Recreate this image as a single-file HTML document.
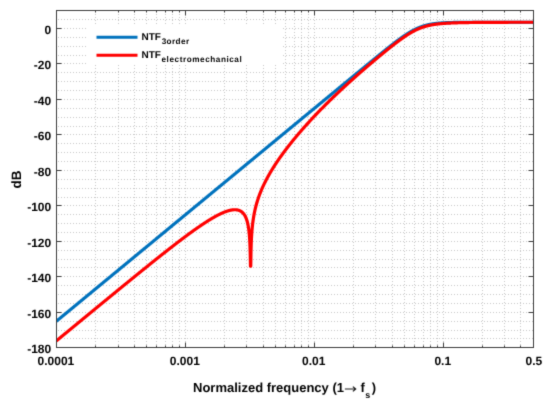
<!DOCTYPE html>
<html><head><meta charset="utf-8"><style>html,body{margin:0;padding:0;background:#fff;width:550px;height:403px;overflow:hidden}svg{display:block}</style></head>
<body><div id="w"><svg width="550" height="403" viewBox="0 0 550 403" text-rendering="geometricPrecision"><defs><filter id="bl" x="0" y="0" width="1" height="1" color-interpolation-filters="sRGB"><feConvolveMatrix order="3" kernelMatrix="1 6 1 6 36 6 1 6 1" divisor="64" edgeMode="duplicate"/></filter></defs><g filter="url(#bl)"><rect width="550" height="403" fill="#fff"/><g stroke="#c8c8c8" stroke-width="1" stroke-dasharray="1 2" fill="none"><line x1="95.5" y1="11" x2="95.5" y2="347.5"/><line x1="118.5" y1="11" x2="118.5" y2="347.5"/><line x1="134.5" y1="11" x2="134.5" y2="347.5"/><line x1="146.5" y1="11" x2="146.5" y2="347.5"/><line x1="156.5" y1="11" x2="156.5" y2="347.5"/><line x1="165.5" y1="11" x2="165.5" y2="347.5"/><line x1="172.5" y1="11" x2="172.5" y2="347.5"/><line x1="179.5" y1="11" x2="179.5" y2="347.5"/><line x1="185.5" y1="11" x2="185.5" y2="347.5"/><line x1="224.5" y1="11" x2="224.5" y2="347.5"/><line x1="246.5" y1="11" x2="246.5" y2="347.5"/><line x1="263.5" y1="11" x2="263.5" y2="347.5"/><line x1="275.5" y1="11" x2="275.5" y2="347.5"/><line x1="285.5" y1="11" x2="285.5" y2="347.5"/><line x1="294.5" y1="11" x2="294.5" y2="347.5"/><line x1="301.5" y1="11" x2="301.5" y2="347.5"/><line x1="308.5" y1="11" x2="308.5" y2="347.5"/><line x1="314.5" y1="11" x2="314.5" y2="347.5"/><line x1="353.5" y1="11" x2="353.5" y2="347.5"/><line x1="375.5" y1="11" x2="375.5" y2="347.5"/><line x1="392.5" y1="11" x2="392.5" y2="347.5"/><line x1="404.5" y1="11" x2="404.5" y2="347.5"/><line x1="414.5" y1="11" x2="414.5" y2="347.5"/><line x1="423.5" y1="11" x2="423.5" y2="347.5"/><line x1="430.5" y1="11" x2="430.5" y2="347.5"/><line x1="437.5" y1="11" x2="437.5" y2="347.5"/><line x1="443.5" y1="11" x2="443.5" y2="347.5"/><line x1="482.5" y1="11" x2="482.5" y2="347.5"/><line x1="504.5" y1="11" x2="504.5" y2="347.5"/><line x1="520.5" y1="11" x2="520.5" y2="347.5"/><line x1="58" y1="338.5" x2="533.5" y2="338.5"/><line x1="58" y1="330.5" x2="533.5" y2="330.5"/><line x1="58" y1="321.5" x2="533.5" y2="321.5"/><line x1="58" y1="312.5" x2="533.5" y2="312.5"/><line x1="58" y1="303.5" x2="533.5" y2="303.5"/><line x1="58" y1="294.5" x2="533.5" y2="294.5"/><line x1="58" y1="285.5" x2="533.5" y2="285.5"/><line x1="58" y1="276.5" x2="533.5" y2="276.5"/><line x1="58" y1="267.5" x2="533.5" y2="267.5"/><line x1="58" y1="259.5" x2="533.5" y2="259.5"/><line x1="58" y1="250.5" x2="533.5" y2="250.5"/><line x1="58" y1="241.5" x2="533.5" y2="241.5"/><line x1="58" y1="232.5" x2="533.5" y2="232.5"/><line x1="58" y1="223.5" x2="533.5" y2="223.5"/><line x1="58" y1="214.5" x2="533.5" y2="214.5"/><line x1="58" y1="205.5" x2="533.5" y2="205.5"/><line x1="58" y1="197.5" x2="533.5" y2="197.5"/><line x1="58" y1="188.5" x2="533.5" y2="188.5"/><line x1="58" y1="179.5" x2="533.5" y2="179.5"/><line x1="58" y1="170.5" x2="533.5" y2="170.5"/><line x1="58" y1="161.5" x2="533.5" y2="161.5"/><line x1="58" y1="152.5" x2="533.5" y2="152.5"/><line x1="58" y1="143.5" x2="533.5" y2="143.5"/><line x1="58" y1="134.5" x2="533.5" y2="134.5"/><line x1="58" y1="126.5" x2="533.5" y2="126.5"/><line x1="58" y1="117.5" x2="533.5" y2="117.5"/><line x1="58" y1="108.5" x2="533.5" y2="108.5"/><line x1="58" y1="99.5" x2="533.5" y2="99.5"/><line x1="58" y1="90.5" x2="533.5" y2="90.5"/><line x1="58" y1="81.5" x2="533.5" y2="81.5"/><line x1="58" y1="72.5" x2="533.5" y2="72.5"/><line x1="58" y1="63.5" x2="533.5" y2="63.5"/><line x1="58" y1="55.5" x2="533.5" y2="55.5"/><line x1="58" y1="46.5" x2="533.5" y2="46.5"/><line x1="58" y1="37.5" x2="533.5" y2="37.5"/><line x1="58" y1="28.5" x2="533.5" y2="28.5"/><line x1="58" y1="19.5" x2="533.5" y2="19.5"/></g><rect x="87" y="25" width="196" height="40" fill="#fff"/><clipPath id="ax"><rect x="56.5" y="10.5" width="477.0" height="337.0"/></clipPath><path clip-path="url(#ax)" d="M56.50,321.12 L56.74,320.92 L56.98,320.72 L57.22,320.53 L57.45,320.33 L57.69,320.13 L57.93,319.93 L58.17,319.74 L58.41,319.54 L58.65,319.34 L58.89,319.15 L59.12,318.95 L59.36,318.75 L59.60,318.56 L59.84,318.36 L60.08,318.16 L60.32,317.97 L60.56,317.77 L60.79,317.57 L61.03,317.37 L61.27,317.18 L61.51,316.98 L61.75,316.78 L61.99,316.59 L62.23,316.39 L62.47,316.19 L62.70,316.00 L62.94,315.80 L63.18,315.60 L63.42,315.41 L63.66,315.21 L63.90,315.01 L64.14,314.81 L64.37,314.62 L64.61,314.42 L64.85,314.22 L65.09,314.03 L65.33,313.83 L65.57,313.63 L65.81,313.44 L66.04,313.24 L66.28,313.04 L66.52,312.85 L66.76,312.65 L67.00,312.45 L67.24,312.25 L67.48,312.06 L67.71,311.86 L67.95,311.66 L68.19,311.47 L68.43,311.27 L68.67,311.07 L68.91,310.88 L69.15,310.68 L69.38,310.48 L69.62,310.29 L69.86,310.09 L70.10,309.89 L70.34,309.69 L70.58,309.50 L70.82,309.30 L71.06,309.10 L71.29,308.91 L71.53,308.71 L71.77,308.51 L72.01,308.32 L72.25,308.12 L72.49,307.92 L72.73,307.73 L72.96,307.53 L73.20,307.33 L73.44,307.13 L73.68,306.94 L73.92,306.74 L74.16,306.54 L74.40,306.35 L74.63,306.15 L74.87,305.95 L75.11,305.76 L75.35,305.56 L75.59,305.36 L75.83,305.16 L76.07,304.97 L76.30,304.77 L76.54,304.57 L76.78,304.38 L77.02,304.18 L77.26,303.98 L77.50,303.79 L77.74,303.59 L77.97,303.39 L78.21,303.20 L78.45,303.00 L78.69,302.80 L78.93,302.60 L79.17,302.41 L79.41,302.21 L79.65,302.01 L79.88,301.82 L80.12,301.62 L80.36,301.42 L80.60,301.23 L80.84,301.03 L81.08,300.83 L81.32,300.64 L81.55,300.44 L81.79,300.24 L82.03,300.04 L82.27,299.85 L82.51,299.65 L82.75,299.45 L82.99,299.26 L83.22,299.06 L83.46,298.86 L83.70,298.67 L83.94,298.47 L84.18,298.27 L84.42,298.08 L84.66,297.88 L84.89,297.68 L85.13,297.48 L85.37,297.29 L85.61,297.09 L85.85,296.89 L86.09,296.70 L86.33,296.50 L86.56,296.30 L86.80,296.11 L87.04,295.91 L87.28,295.71 L87.52,295.52 L87.76,295.32 L88.00,295.12 L88.24,294.92 L88.47,294.73 L88.71,294.53 L88.95,294.33 L89.19,294.14 L89.43,293.94 L89.67,293.74 L89.91,293.55 L90.14,293.35 L90.38,293.15 L90.62,292.96 L90.86,292.76 L91.10,292.56 L91.34,292.36 L91.58,292.17 L91.81,291.97 L92.05,291.77 L92.29,291.58 L92.53,291.38 L92.77,291.18 L93.01,290.99 L93.25,290.79 L93.48,290.59 L93.72,290.40 L93.96,290.20 L94.20,290.00 L94.44,289.80 L94.68,289.61 L94.92,289.41 L95.15,289.21 L95.39,289.02 L95.63,288.82 L95.87,288.62 L96.11,288.43 L96.35,288.23 L96.59,288.03 L96.83,287.84 L97.06,287.64 L97.30,287.44 L97.54,287.24 L97.78,287.05 L98.02,286.85 L98.26,286.65 L98.50,286.46 L98.73,286.26 L98.97,286.06 L99.21,285.87 L99.45,285.67 L99.69,285.47 L99.93,285.28 L100.17,285.08 L100.40,284.88 L100.64,284.68 L100.88,284.49 L101.12,284.29 L101.36,284.09 L101.60,283.90 L101.84,283.70 L102.07,283.50 L102.31,283.31 L102.55,283.11 L102.79,282.91 L103.03,282.72 L103.27,282.52 L103.51,282.32 L103.74,282.12 L103.98,281.93 L104.22,281.73 L104.46,281.53 L104.70,281.34 L104.94,281.14 L105.18,280.94 L105.42,280.75 L105.65,280.55 L105.89,280.35 L106.13,280.16 L106.37,279.96 L106.61,279.76 L106.85,279.56 L107.09,279.37 L107.32,279.17 L107.56,278.97 L107.80,278.78 L108.04,278.58 L108.28,278.38 L108.52,278.19 L108.76,277.99 L108.99,277.79 L109.23,277.60 L109.47,277.40 L109.71,277.20 L109.95,277.00 L110.19,276.81 L110.43,276.61 L110.66,276.41 L110.90,276.22 L111.14,276.02 L111.38,275.82 L111.62,275.63 L111.86,275.43 L112.10,275.23 L112.33,275.04 L112.57,274.84 L112.81,274.64 L113.05,274.44 L113.29,274.25 L113.53,274.05 L113.77,273.85 L114.01,273.66 L114.24,273.46 L114.48,273.26 L114.72,273.07 L114.96,272.87 L115.20,272.67 L115.44,272.48 L115.68,272.28 L115.91,272.08 L116.15,271.88 L116.39,271.69 L116.63,271.49 L116.87,271.29 L117.11,271.10 L117.35,270.90 L117.58,270.70 L117.82,270.51 L118.06,270.31 L118.30,270.11 L118.54,269.92 L118.78,269.72 L119.02,269.52 L119.25,269.32 L119.49,269.13 L119.73,268.93 L119.97,268.73 L120.21,268.54 L120.45,268.34 L120.69,268.14 L120.92,267.95 L121.16,267.75 L121.40,267.55 L121.64,267.36 L121.88,267.16 L122.12,266.96 L122.36,266.76 L122.60,266.57 L122.83,266.37 L123.07,266.17 L123.31,265.98 L123.55,265.78 L123.79,265.58 L124.03,265.39 L124.27,265.19 L124.50,264.99 L124.74,264.80 L124.98,264.60 L125.22,264.40 L125.46,264.20 L125.70,264.01 L125.94,263.81 L126.17,263.61 L126.41,263.42 L126.65,263.22 L126.89,263.02 L127.13,262.83 L127.37,262.63 L127.61,262.43 L127.84,262.24 L128.08,262.04 L128.32,261.84 L128.56,261.64 L128.80,261.45 L129.04,261.25 L129.28,261.05 L129.51,260.86 L129.75,260.66 L129.99,260.46 L130.23,260.27 L130.47,260.07 L130.71,259.87 L130.95,259.68 L131.19,259.48 L131.42,259.28 L131.66,259.08 L131.90,258.89 L132.14,258.69 L132.38,258.49 L132.62,258.30 L132.86,258.10 L133.09,257.90 L133.33,257.71 L133.57,257.51 L133.81,257.31 L134.05,257.12 L134.29,256.92 L134.53,256.72 L134.76,256.52 L135.00,256.33 L135.24,256.13 L135.48,255.93 L135.72,255.74 L135.96,255.54 L136.20,255.34 L136.43,255.15 L136.67,254.95 L136.91,254.75 L137.15,254.56 L137.39,254.36 L137.63,254.16 L137.87,253.96 L138.10,253.77 L138.34,253.57 L138.58,253.37 L138.82,253.18 L139.06,252.98 L139.30,252.78 L139.54,252.59 L139.78,252.39 L140.01,252.19 L140.25,252.00 L140.49,251.80 L140.73,251.60 L140.97,251.40 L141.21,251.21 L141.45,251.01 L141.68,250.81 L141.92,250.62 L142.16,250.42 L142.40,250.22 L142.64,250.03 L142.88,249.83 L143.12,249.63 L143.35,249.44 L143.59,249.24 L143.83,249.04 L144.07,248.84 L144.31,248.65 L144.55,248.45 L144.79,248.25 L145.02,248.06 L145.26,247.86 L145.50,247.66 L145.74,247.47 L145.98,247.27 L146.22,247.07 L146.46,246.88 L146.69,246.68 L146.93,246.48 L147.17,246.28 L147.41,246.09 L147.65,245.89 L147.89,245.69 L148.13,245.50 L148.37,245.30 L148.60,245.10 L148.84,244.91 L149.08,244.71 L149.32,244.51 L149.56,244.32 L149.80,244.12 L150.04,243.92 L150.27,243.72 L150.51,243.53 L150.75,243.33 L150.99,243.13 L151.23,242.94 L151.47,242.74 L151.71,242.54 L151.94,242.35 L152.18,242.15 L152.42,241.95 L152.66,241.76 L152.90,241.56 L153.14,241.36 L153.38,241.16 L153.61,240.97 L153.85,240.77 L154.09,240.57 L154.33,240.38 L154.57,240.18 L154.81,239.98 L155.05,239.79 L155.28,239.59 L155.52,239.39 L155.76,239.20 L156.00,239.00 L156.24,238.80 L156.48,238.60 L156.72,238.41 L156.95,238.21 L157.19,238.01 L157.43,237.82 L157.67,237.62 L157.91,237.42 L158.15,237.23 L158.39,237.03 L158.63,236.83 L158.86,236.64 L159.10,236.44 L159.34,236.24 L159.58,236.04 L159.82,235.85 L160.06,235.65 L160.30,235.45 L160.53,235.26 L160.77,235.06 L161.01,234.86 L161.25,234.67 L161.49,234.47 L161.73,234.27 L161.97,234.08 L162.20,233.88 L162.44,233.68 L162.68,233.48 L162.92,233.29 L163.16,233.09 L163.40,232.89 L163.64,232.70 L163.87,232.50 L164.11,232.30 L164.35,232.11 L164.59,231.91 L164.83,231.71 L165.07,231.52 L165.31,231.32 L165.54,231.12 L165.78,230.92 L166.02,230.73 L166.26,230.53 L166.50,230.33 L166.74,230.14 L166.98,229.94 L167.22,229.74 L167.45,229.55 L167.69,229.35 L167.93,229.15 L168.17,228.96 L168.41,228.76 L168.65,228.56 L168.89,228.36 L169.12,228.17 L169.36,227.97 L169.60,227.77 L169.84,227.58 L170.08,227.38 L170.32,227.18 L170.56,226.99 L170.79,226.79 L171.03,226.59 L171.27,226.40 L171.51,226.20 L171.75,226.00 L171.99,225.80 L172.23,225.61 L172.46,225.41 L172.70,225.21 L172.94,225.02 L173.18,224.82 L173.42,224.62 L173.66,224.43 L173.90,224.23 L174.13,224.03 L174.37,223.84 L174.61,223.64 L174.85,223.44 L175.09,223.24 L175.33,223.05 L175.57,222.85 L175.81,222.65 L176.04,222.46 L176.28,222.26 L176.52,222.06 L176.76,221.87 L177.00,221.67 L177.24,221.47 L177.48,221.28 L177.71,221.08 L177.95,220.88 L178.19,220.68 L178.43,220.49 L178.67,220.29 L178.91,220.09 L179.15,219.90 L179.38,219.70 L179.62,219.50 L179.86,219.31 L180.10,219.11 L180.34,218.91 L180.58,218.72 L180.82,218.52 L181.05,218.32 L181.29,218.12 L181.53,217.93 L181.77,217.73 L182.01,217.53 L182.25,217.34 L182.49,217.14 L182.72,216.94 L182.96,216.75 L183.20,216.55 L183.44,216.35 L183.68,216.16 L183.92,215.96 L184.16,215.76 L184.40,215.56 L184.63,215.37 L184.87,215.17 L185.11,214.97 L185.35,214.78 L185.59,214.58 L185.83,214.38 L186.07,214.19 L186.30,213.99 L186.54,213.79 L186.78,213.60 L187.02,213.40 L187.26,213.20 L187.50,213.00 L187.74,212.81 L187.97,212.61 L188.21,212.41 L188.45,212.22 L188.69,212.02 L188.93,211.82 L189.17,211.63 L189.41,211.43 L189.64,211.23 L189.88,211.04 L190.12,210.84 L190.36,210.64 L190.60,210.44 L190.84,210.25 L191.08,210.05 L191.31,209.85 L191.55,209.66 L191.79,209.46 L192.03,209.26 L192.27,209.07 L192.51,208.87 L192.75,208.67 L192.99,208.48 L193.22,208.28 L193.46,208.08 L193.70,207.88 L193.94,207.69 L194.18,207.49 L194.42,207.29 L194.66,207.10 L194.89,206.90 L195.13,206.70 L195.37,206.51 L195.61,206.31 L195.85,206.11 L196.09,205.92 L196.33,205.72 L196.56,205.52 L196.80,205.32 L197.04,205.13 L197.28,204.93 L197.52,204.73 L197.76,204.54 L198.00,204.34 L198.23,204.14 L198.47,203.95 L198.71,203.75 L198.95,203.55 L199.19,203.36 L199.43,203.16 L199.67,202.96 L199.90,202.76 L200.14,202.57 L200.38,202.37 L200.62,202.17 L200.86,201.98 L201.10,201.78 L201.34,201.58 L201.58,201.39 L201.81,201.19 L202.05,200.99 L202.29,200.80 L202.53,200.60 L202.77,200.40 L203.01,200.20 L203.25,200.01 L203.48,199.81 L203.72,199.61 L203.96,199.42 L204.20,199.22 L204.44,199.02 L204.68,198.83 L204.92,198.63 L205.15,198.43 L205.39,198.24 L205.63,198.04 L205.87,197.84 L206.11,197.64 L206.35,197.45 L206.59,197.25 L206.82,197.05 L207.06,196.86 L207.30,196.66 L207.54,196.46 L207.78,196.27 L208.02,196.07 L208.26,195.87 L208.49,195.68 L208.73,195.48 L208.97,195.28 L209.21,195.08 L209.45,194.89 L209.69,194.69 L209.93,194.49 L210.17,194.30 L210.40,194.10 L210.64,193.90 L210.88,193.71 L211.12,193.51 L211.36,193.31 L211.60,193.12 L211.84,192.92 L212.07,192.72 L212.31,192.52 L212.55,192.33 L212.79,192.13 L213.03,191.93 L213.27,191.74 L213.51,191.54 L213.74,191.34 L213.98,191.15 L214.22,190.95 L214.46,190.75 L214.70,190.56 L214.94,190.36 L215.18,190.16 L215.41,189.96 L215.65,189.77 L215.89,189.57 L216.13,189.37 L216.37,189.18 L216.61,188.98 L216.85,188.78 L217.08,188.59 L217.32,188.39 L217.56,188.19 L217.80,188.00 L218.04,187.80 L218.28,187.60 L218.52,187.40 L218.76,187.21 L218.99,187.01 L219.23,186.81 L219.47,186.62 L219.71,186.42 L219.95,186.22 L220.19,186.03 L220.43,185.83 L220.66,185.63 L220.90,185.44 L221.14,185.24 L221.38,185.04 L221.62,184.84 L221.86,184.65 L222.10,184.45 L222.33,184.25 L222.57,184.06 L222.81,183.86 L223.05,183.66 L223.29,183.47 L223.53,183.27 L223.77,183.07 L224.00,182.88 L224.24,182.68 L224.48,182.48 L224.72,182.28 L224.96,182.09 L225.20,181.89 L225.44,181.69 L225.67,181.50 L225.91,181.30 L226.15,181.10 L226.39,180.91 L226.63,180.71 L226.87,180.51 L227.11,180.32 L227.35,180.12 L227.58,179.92 L227.82,179.72 L228.06,179.53 L228.30,179.33 L228.54,179.13 L228.78,178.94 L229.02,178.74 L229.25,178.54 L229.49,178.35 L229.73,178.15 L229.97,177.95 L230.21,177.76 L230.45,177.56 L230.69,177.36 L230.92,177.16 L231.16,176.97 L231.40,176.77 L231.64,176.57 L231.88,176.38 L232.12,176.18 L232.36,175.98 L232.59,175.79 L232.83,175.59 L233.07,175.39 L233.31,175.20 L233.55,175.00 L233.79,174.80 L234.03,174.60 L234.26,174.41 L234.50,174.21 L234.74,174.01 L234.98,173.82 L235.22,173.62 L235.46,173.42 L235.70,173.23 L235.94,173.03 L236.17,172.83 L236.41,172.64 L236.65,172.44 L236.89,172.24 L237.13,172.04 L237.37,171.85 L237.61,171.65 L237.84,171.45 L238.08,171.26 L238.32,171.06 L238.56,170.86 L238.80,170.67 L239.04,170.47 L239.28,170.27 L239.51,170.08 L239.75,169.88 L239.99,169.68 L240.23,169.48 L240.47,169.29 L240.71,169.09 L240.95,168.89 L241.18,168.70 L241.42,168.50 L241.66,168.30 L241.90,168.11 L242.14,167.91 L242.38,167.71 L242.62,167.52 L242.85,167.32 L243.09,167.12 L243.33,166.92 L243.57,166.73 L243.81,166.53 L244.05,166.33 L244.29,166.14 L244.52,165.94 L244.76,165.74 L245.00,165.55 L245.24,165.35 L245.48,165.15 L245.72,164.96 L245.96,164.76 L246.20,164.56 L246.43,164.36 L246.67,164.17 L246.91,163.97 L247.15,163.77 L247.39,163.58 L247.63,163.38 L247.87,163.18 L248.10,162.99 L248.34,162.79 L248.58,162.59 L248.82,162.40 L249.06,162.20 L249.30,162.00 L249.54,161.80 L249.77,161.61 L250.01,161.41 L250.25,161.21 L250.49,161.02 L250.73,160.82 L250.97,160.62 L251.21,160.43 L251.44,160.23 L251.68,160.03 L251.92,159.84 L252.16,159.64 L252.40,159.44 L252.64,159.24 L252.88,159.05 L253.11,158.85 L253.35,158.65 L253.59,158.46 L253.83,158.26 L254.07,158.06 L254.31,157.87 L254.55,157.67 L254.79,157.47 L255.02,157.28 L255.26,157.08 L255.50,156.88 L255.74,156.68 L255.98,156.49 L256.22,156.29 L256.46,156.09 L256.69,155.90 L256.93,155.70 L257.17,155.50 L257.41,155.31 L257.65,155.11 L257.89,154.91 L258.13,154.72 L258.36,154.52 L258.60,154.32 L258.84,154.13 L259.08,153.93 L259.32,153.73 L259.56,153.53 L259.80,153.34 L260.03,153.14 L260.27,152.94 L260.51,152.75 L260.75,152.55 L260.99,152.35 L261.23,152.16 L261.47,151.96 L261.70,151.76 L261.94,151.57 L262.18,151.37 L262.42,151.17 L262.66,150.97 L262.90,150.78 L263.14,150.58 L263.38,150.38 L263.61,150.19 L263.85,149.99 L264.09,149.79 L264.33,149.60 L264.57,149.40 L264.81,149.20 L265.05,149.01 L265.28,148.81 L265.52,148.61 L265.76,148.41 L266.00,148.22 L266.24,148.02 L266.48,147.82 L266.72,147.63 L266.95,147.43 L267.19,147.23 L267.43,147.04 L267.67,146.84 L267.91,146.64 L268.15,146.45 L268.39,146.25 L268.62,146.05 L268.86,145.85 L269.10,145.66 L269.34,145.46 L269.58,145.26 L269.82,145.07 L270.06,144.87 L270.29,144.67 L270.53,144.48 L270.77,144.28 L271.01,144.08 L271.25,143.89 L271.49,143.69 L271.73,143.49 L271.97,143.29 L272.20,143.10 L272.44,142.90 L272.68,142.70 L272.92,142.51 L273.16,142.31 L273.40,142.11 L273.64,141.92 L273.87,141.72 L274.11,141.52 L274.35,141.33 L274.59,141.13 L274.83,140.93 L275.07,140.74 L275.31,140.54 L275.54,140.34 L275.78,140.14 L276.02,139.95 L276.26,139.75 L276.50,139.55 L276.74,139.36 L276.98,139.16 L277.21,138.96 L277.45,138.77 L277.69,138.57 L277.93,138.37 L278.17,138.18 L278.41,137.98 L278.65,137.78 L278.88,137.58 L279.12,137.39 L279.36,137.19 L279.60,136.99 L279.84,136.80 L280.08,136.60 L280.32,136.40 L280.56,136.21 L280.79,136.01 L281.03,135.81 L281.27,135.62 L281.51,135.42 L281.75,135.22 L281.99,135.02 L282.23,134.83 L282.46,134.63 L282.70,134.43 L282.94,134.24 L283.18,134.04 L283.42,133.84 L283.66,133.65 L283.90,133.45 L284.13,133.25 L284.37,133.06 L284.61,132.86 L284.85,132.66 L285.09,132.46 L285.33,132.27 L285.57,132.07 L285.80,131.87 L286.04,131.68 L286.28,131.48 L286.52,131.28 L286.76,131.09 L287.00,130.89 L287.24,130.69 L287.47,130.50 L287.71,130.30 L287.95,130.10 L288.19,129.91 L288.43,129.71 L288.67,129.51 L288.91,129.31 L289.15,129.12 L289.38,128.92 L289.62,128.72 L289.86,128.53 L290.10,128.33 L290.34,128.13 L290.58,127.94 L290.82,127.74 L291.05,127.54 L291.29,127.35 L291.53,127.15 L291.77,126.95 L292.01,126.75 L292.25,126.56 L292.49,126.36 L292.72,126.16 L292.96,125.97 L293.20,125.77 L293.44,125.57 L293.68,125.38 L293.92,125.18 L294.16,124.98 L294.39,124.79 L294.63,124.59 L294.87,124.39 L295.11,124.20 L295.35,124.00 L295.59,123.80 L295.83,123.60 L296.06,123.41 L296.30,123.21 L296.54,123.01 L296.78,122.82 L297.02,122.62 L297.26,122.42 L297.50,122.23 L297.74,122.03 L297.97,121.83 L298.21,121.64 L298.45,121.44 L298.69,121.24 L298.93,121.05 L299.17,120.85 L299.41,120.65 L299.64,120.45 L299.88,120.26 L300.12,120.06 L300.36,119.86 L300.60,119.67 L300.84,119.47 L301.08,119.27 L301.31,119.08 L301.55,118.88 L301.79,118.68 L302.03,118.49 L302.27,118.29 L302.51,118.09 L302.75,117.89 L302.98,117.70 L303.22,117.50 L303.46,117.30 L303.70,117.11 L303.94,116.91 L304.18,116.71 L304.42,116.52 L304.65,116.32 L304.89,116.12 L305.13,115.93 L305.37,115.73 L305.61,115.53 L305.85,115.34 L306.09,115.14 L306.33,114.94 L306.56,114.74 L306.80,114.55 L307.04,114.35 L307.28,114.15 L307.52,113.96 L307.76,113.76 L308.00,113.56 L308.23,113.37 L308.47,113.17 L308.71,112.97 L308.95,112.78 L309.19,112.58 L309.43,112.38 L309.67,112.19 L309.90,111.99 L310.14,111.79 L310.38,111.59 L310.62,111.40 L310.86,111.20 L311.10,111.00 L311.34,110.81 L311.57,110.61 L311.81,110.41 L312.05,110.22 L312.29,110.02 L312.53,109.82 L312.77,109.63 L313.01,109.43 L313.24,109.23 L313.48,109.04 L313.72,108.84 L313.96,108.64 L314.20,108.45 L314.44,108.25 L314.68,108.05 L314.92,107.85 L315.15,107.66 L315.39,107.46 L315.63,107.26 L315.87,107.07 L316.11,106.87 L316.35,106.67 L316.59,106.48 L316.82,106.28 L317.06,106.08 L317.30,105.89 L317.54,105.69 L317.78,105.49 L318.02,105.30 L318.26,105.10 L318.49,104.90 L318.73,104.71 L318.97,104.51 L319.21,104.31 L319.45,104.11 L319.69,103.92 L319.93,103.72 L320.16,103.52 L320.40,103.33 L320.64,103.13 L320.88,102.93 L321.12,102.74 L321.36,102.54 L321.60,102.34 L321.83,102.15 L322.07,101.95 L322.31,101.75 L322.55,101.56 L322.79,101.36 L323.03,101.16 L323.27,100.97 L323.51,100.77 L323.74,100.57 L323.98,100.37 L324.22,100.18 L324.46,99.98 L324.70,99.78 L324.94,99.59 L325.18,99.39 L325.41,99.19 L325.65,99.00 L325.89,98.80 L326.13,98.60 L326.37,98.41 L326.61,98.21 L326.85,98.01 L327.08,97.82 L327.32,97.62 L327.56,97.42 L327.80,97.23 L328.04,97.03 L328.28,96.83 L328.52,96.64 L328.75,96.44 L328.99,96.24 L329.23,96.04 L329.47,95.85 L329.71,95.65 L329.95,95.45 L330.19,95.26 L330.42,95.06 L330.66,94.86 L330.90,94.67 L331.14,94.47 L331.38,94.27 L331.62,94.08 L331.86,93.88 L332.10,93.68 L332.33,93.49 L332.57,93.29 L332.81,93.09 L333.05,92.90 L333.29,92.70 L333.53,92.50 L333.77,92.31 L334.00,92.11 L334.24,91.91 L334.48,91.72 L334.72,91.52 L334.96,91.32 L335.20,91.13 L335.44,90.93 L335.67,90.73 L335.91,90.53 L336.15,90.34 L336.39,90.14 L336.63,89.94 L336.87,89.75 L337.11,89.55 L337.34,89.35 L337.58,89.16 L337.82,88.96 L338.06,88.76 L338.30,88.57 L338.54,88.37 L338.78,88.17 L339.01,87.98 L339.25,87.78 L339.49,87.58 L339.73,87.39 L339.97,87.19 L340.21,86.99 L340.45,86.80 L340.68,86.60 L340.92,86.40 L341.16,86.21 L341.40,86.01 L341.64,85.81 L341.88,85.62 L342.12,85.42 L342.36,85.22 L342.59,85.03 L342.83,84.83 L343.07,84.63 L343.31,84.44 L343.55,84.24 L343.79,84.04 L344.03,83.85 L344.26,83.65 L344.50,83.45 L344.74,83.26 L344.98,83.06 L345.22,82.86 L345.46,82.67 L345.70,82.47 L345.93,82.27 L346.17,82.08 L346.41,81.88 L346.65,81.68 L346.89,81.49 L347.13,81.29 L347.37,81.09 L347.60,80.90 L347.84,80.70 L348.08,80.50 L348.32,80.31 L348.56,80.11 L348.80,79.91 L349.04,79.72 L349.27,79.52 L349.51,79.32 L349.75,79.13 L349.99,78.93 L350.23,78.73 L350.47,78.54 L350.71,78.34 L350.95,78.14 L351.18,77.95 L351.42,77.75 L351.66,77.56 L351.90,77.36 L352.14,77.16 L352.38,76.97 L352.62,76.77 L352.85,76.57 L353.09,76.38 L353.33,76.18 L353.57,75.98 L353.81,75.79 L354.05,75.59 L354.29,75.39 L354.52,75.20 L354.76,75.00 L355.00,74.80 L355.24,74.61 L355.48,74.41 L355.72,74.22 L355.96,74.02 L356.19,73.82 L356.43,73.63 L356.67,73.43 L356.91,73.23 L357.15,73.04 L357.39,72.84 L357.63,72.64 L357.86,72.45 L358.10,72.25 L358.34,72.06 L358.58,71.86 L358.82,71.66 L359.06,71.47 L359.30,71.27 L359.54,71.07 L359.77,70.88 L360.01,70.68 L360.25,70.48 L360.49,70.29 L360.73,70.09 L360.97,69.90 L361.21,69.70 L361.44,69.50 L361.68,69.31 L361.92,69.11 L362.16,68.92 L362.40,68.72 L362.64,68.52 L362.88,68.33 L363.11,68.13 L363.35,67.94 L363.59,67.74 L363.83,67.54 L364.07,67.35 L364.31,67.15 L364.55,66.96 L364.78,66.76 L365.02,66.56 L365.26,66.37 L365.50,66.17 L365.74,65.98 L365.98,65.78 L366.22,65.58 L366.45,65.39 L366.69,65.19 L366.93,65.00 L367.17,64.80 L367.41,64.61 L367.65,64.41 L367.89,64.21 L368.13,64.02 L368.36,63.82 L368.60,63.63 L368.84,63.43 L369.08,63.24 L369.32,63.04 L369.56,62.85 L369.80,62.65 L370.03,62.45 L370.27,62.26 L370.51,62.06 L370.75,61.87 L370.99,61.67 L371.23,61.48 L371.47,61.28 L371.70,61.09 L371.94,60.89 L372.18,60.70 L372.42,60.50 L372.66,60.31 L372.90,60.11 L373.14,59.92 L373.37,59.72 L373.61,59.53 L373.85,59.33 L374.09,59.14 L374.33,58.94 L374.57,58.75 L374.81,58.55 L375.04,58.36 L375.28,58.16 L375.52,57.97 L375.76,57.78 L376.00,57.58 L376.24,57.39 L376.48,57.19 L376.72,57.00 L376.95,56.80 L377.19,56.61 L377.43,56.42 L377.67,56.22 L377.91,56.03 L378.15,55.84 L378.39,55.64 L378.62,55.45 L378.86,55.25 L379.10,55.06 L379.34,54.87 L379.58,54.67 L379.82,54.48 L380.06,54.29 L380.29,54.09 L380.53,53.90 L380.77,53.71 L381.01,53.52 L381.25,53.32 L381.49,53.13 L381.73,52.94 L381.96,52.74 L382.20,52.55 L382.44,52.36 L382.68,52.17 L382.92,51.98 L383.16,51.78 L383.40,51.59 L383.63,51.40 L383.87,51.21 L384.11,51.02 L384.35,50.83 L384.59,50.63 L384.83,50.44 L385.07,50.25 L385.31,50.06 L385.54,49.87 L385.78,49.68 L386.02,49.49 L386.26,49.30 L386.50,49.11 L386.74,48.92 L386.98,48.73 L387.21,48.54 L387.45,48.35 L387.69,48.16 L387.93,47.97 L388.17,47.78 L388.41,47.59 L388.65,47.40 L388.88,47.22 L389.12,47.03 L389.36,46.84 L389.60,46.65 L389.84,46.46 L390.08,46.28 L390.32,46.09 L390.55,45.90 L390.79,45.72 L391.03,45.53 L391.27,45.34 L391.51,45.16 L391.75,44.97 L391.99,44.79 L392.22,44.60 L392.46,44.42 L392.70,44.23 L392.94,44.05 L393.18,43.86 L393.42,43.68 L393.66,43.50 L393.90,43.31 L394.13,43.13 L394.37,42.95 L394.61,42.76 L394.85,42.58 L395.09,42.40 L395.33,42.22 L395.57,42.04 L395.80,41.86 L396.04,41.68 L396.28,41.50 L396.52,41.32 L396.76,41.14 L397.00,40.96 L397.24,40.78 L397.47,40.60 L397.71,40.43 L397.95,40.25 L398.19,40.07 L398.43,39.90 L398.67,39.72 L398.91,39.55 L399.14,39.37 L399.38,39.20 L399.62,39.02 L399.86,38.85 L400.10,38.68 L400.34,38.51 L400.58,38.34 L400.81,38.16 L401.05,37.99 L401.29,37.82 L401.53,37.65 L401.77,37.49 L402.01,37.32 L402.25,37.15 L402.49,36.98 L402.72,36.82 L402.96,36.65 L403.20,36.49 L403.44,36.32 L403.68,36.16 L403.92,36.00 L404.16,35.83 L404.39,35.67 L404.63,35.51 L404.87,35.35 L405.11,35.19 L405.35,35.03 L405.59,34.88 L405.83,34.72 L406.06,34.56 L406.30,34.41 L406.54,34.25 L406.78,34.10 L407.02,33.95 L407.26,33.80 L407.50,33.64 L407.73,33.49 L407.97,33.34 L408.21,33.20 L408.45,33.05 L408.69,32.90 L408.93,32.76 L409.17,32.61 L409.40,32.47 L409.64,32.33 L409.88,32.18 L410.12,32.04 L410.36,31.90 L410.60,31.76 L410.84,31.63 L411.08,31.49 L411.31,31.35 L411.55,31.22 L411.79,31.09 L412.03,30.95 L412.27,30.82 L412.51,30.69 L412.75,30.56 L412.98,30.44 L413.22,30.31 L413.46,30.18 L413.70,30.06 L413.94,29.93 L414.18,29.81 L414.42,29.69 L414.65,29.57 L414.89,29.45 L415.13,29.34 L415.37,29.22 L415.61,29.10 L415.85,28.99 L416.09,28.88 L416.32,28.77 L416.56,28.66 L416.80,28.55 L417.04,28.44 L417.28,28.33 L417.52,28.23 L417.76,28.12 L417.99,28.02 L418.23,27.92 L418.47,27.82 L418.71,27.72 L418.95,27.62 L419.19,27.52 L419.43,27.43 L419.67,27.33 L419.90,27.24 L420.14,27.15 L420.38,27.06 L420.62,26.97 L420.86,26.88 L421.10,26.79 L421.34,26.71 L421.57,26.62 L421.81,26.54 L422.05,26.46 L422.29,26.38 L422.53,26.30 L422.77,26.22 L423.01,26.14 L423.24,26.06 L423.48,25.99 L423.72,25.91 L423.96,25.84 L424.20,25.77 L424.44,25.70 L424.68,25.63 L424.91,25.56 L425.15,25.50 L425.39,25.43 L425.63,25.36 L425.87,25.30 L426.11,25.24 L426.35,25.18 L426.58,25.12 L426.82,25.06 L427.06,25.00 L427.30,24.94 L427.54,24.88 L427.78,24.83 L428.02,24.77 L428.25,24.72 L428.49,24.67 L428.73,24.62 L428.97,24.57 L429.21,24.52 L429.45,24.47 L429.69,24.42 L429.93,24.37 L430.16,24.33 L430.40,24.28 L430.64,24.24 L430.88,24.19 L431.12,24.15 L431.36,24.11 L431.60,24.07 L431.83,24.03 L432.07,23.99 L432.31,23.95 L432.55,23.91 L432.79,23.88 L433.03,23.84 L433.27,23.81 L433.50,23.77 L433.74,23.74 L433.98,23.70 L434.22,23.67 L434.46,23.64 L434.70,23.61 L434.94,23.58 L435.17,23.55 L435.41,23.52 L435.65,23.49 L435.89,23.46 L436.13,23.43 L436.37,23.41 L436.61,23.38 L436.84,23.35 L437.08,23.33 L437.32,23.30 L437.56,23.28 L437.80,23.26 L438.04,23.23 L438.28,23.21 L438.52,23.19 L438.75,23.17 L438.99,23.15 L439.23,23.12 L439.47,23.10 L439.71,23.08 L439.95,23.07 L440.19,23.05 L440.42,23.03 L440.66,23.01 L440.90,22.99 L441.14,22.97 L441.38,22.96 L441.62,22.94 L441.86,22.93 L442.09,22.91 L442.33,22.89 L442.57,22.88 L442.81,22.86 L443.05,22.85 L443.29,22.84 L443.53,22.82 L443.76,22.81 L444.00,22.80 L444.24,22.78 L444.48,22.77 L444.72,22.76 L444.96,22.75 L445.20,22.73 L445.43,22.72 L445.67,22.71 L445.91,22.70 L446.15,22.69 L446.39,22.68 L446.63,22.67 L446.87,22.66 L447.11,22.65 L447.34,22.64 L447.58,22.63 L447.82,22.62 L448.06,22.61 L448.30,22.61 L448.54,22.60 L448.78,22.59 L449.01,22.58 L449.25,22.57 L449.49,22.57 L449.73,22.56 L449.97,22.55 L450.21,22.54 L450.45,22.54 L450.68,22.53 L450.92,22.52 L451.16,22.52 L451.40,22.51 L451.64,22.50 L451.88,22.50 L452.12,22.49 L452.35,22.49 L452.59,22.48 L452.83,22.48 L453.07,22.47 L453.31,22.47 L453.55,22.46 L453.79,22.46 L454.02,22.45 L454.26,22.45 L454.50,22.44 L454.74,22.44 L454.98,22.43 L455.22,22.43 L455.46,22.42 L455.70,22.42 L455.93,22.42 L456.17,22.41 L456.41,22.41 L456.65,22.41 L456.89,22.40 L457.13,22.40 L457.37,22.39 L457.60,22.39 L457.84,22.39 L458.08,22.38 L458.32,22.38 L458.56,22.38 L458.80,22.38 L459.04,22.37 L459.27,22.37 L459.51,22.37 L459.75,22.36 L459.99,22.36 L460.23,22.36 L460.47,22.36 L460.71,22.35 L460.94,22.35 L461.18,22.35 L461.42,22.35 L461.66,22.35 L461.90,22.34 L462.14,22.34 L462.38,22.34 L462.61,22.34 L462.85,22.33 L463.09,22.33 L463.33,22.33 L463.57,22.33 L463.81,22.33 L464.05,22.33 L464.29,22.32 L464.52,22.32 L464.76,22.32 L465.00,22.32 L465.24,22.32 L465.48,22.32 L465.72,22.31 L465.96,22.31 L466.19,22.31 L466.43,22.31 L466.67,22.31 L466.91,22.31 L467.15,22.31 L467.39,22.31 L467.63,22.30 L467.86,22.30 L468.10,22.30 L468.34,22.30 L468.58,22.30 L468.82,22.30 L469.06,22.30 L469.30,22.30 L469.53,22.30 L469.77,22.29 L470.01,22.29 L470.25,22.29 L470.49,22.29 L470.73,22.29 L470.97,22.29 L471.20,22.29 L471.44,22.29 L471.68,22.29 L471.92,22.29 L472.16,22.29 L472.40,22.28 L472.64,22.28 L472.88,22.28 L473.11,22.28 L473.35,22.28 L473.59,22.28 L473.83,22.28 L474.07,22.28 L474.31,22.28 L474.55,22.28 L474.78,22.28 L475.02,22.28 L475.26,22.28 L475.50,22.28 L475.74,22.28 L475.98,22.28 L476.22,22.28 L476.45,22.27 L476.69,22.27 L476.93,22.27 L477.17,22.27 L477.41,22.27 L477.65,22.27 L477.89,22.27 L478.12,22.27 L478.36,22.27 L478.60,22.27 L478.84,22.27 L479.08,22.27 L479.32,22.27 L479.56,22.27 L479.79,22.27 L480.03,22.27 L480.27,22.27 L480.51,22.27 L480.75,22.27 L480.99,22.27 L481.23,22.27 L481.47,22.27 L481.70,22.27 L481.94,22.27 L482.18,22.27 L482.42,22.27 L482.66,22.26 L482.90,22.26 L483.14,22.26 L483.37,22.26 L483.61,22.26 L483.85,22.26 L484.09,22.26 L484.33,22.26 L484.57,22.26 L484.81,22.26 L485.04,22.26 L485.28,22.26 L485.52,22.26 L485.76,22.26 L486.00,22.26 L486.24,22.26 L486.48,22.26 L486.71,22.26 L486.95,22.26 L487.19,22.26 L487.43,22.26 L487.67,22.26 L487.91,22.26 L488.15,22.26 L488.38,22.26 L488.62,22.26 L488.86,22.26 L489.10,22.26 L489.34,22.26 L489.58,22.26 L489.82,22.26 L490.06,22.26 L490.29,22.26 L490.53,22.26 L490.77,22.26 L491.01,22.26 L491.25,22.26 L491.49,22.26 L491.73,22.26 L491.96,22.26 L492.20,22.26 L492.44,22.26 L492.68,22.26 L492.92,22.26 L493.16,22.26 L493.40,22.26 L493.63,22.26 L493.87,22.26 L494.11,22.26 L494.35,22.26 L494.59,22.26 L494.83,22.26 L495.07,22.26 L495.30,22.26 L495.54,22.26 L495.78,22.26 L496.02,22.26 L496.26,22.26 L496.50,22.26 L496.74,22.26 L496.97,22.26 L497.21,22.26 L497.45,22.26 L497.69,22.26 L497.93,22.26 L498.17,22.26 L498.41,22.26 L498.65,22.26 L498.88,22.26 L499.12,22.26 L499.36,22.26 L499.60,22.26 L499.84,22.26 L500.08,22.26 L500.32,22.26 L500.55,22.26 L500.79,22.26 L501.03,22.26 L501.27,22.26 L501.51,22.26 L501.75,22.26 L501.99,22.26 L502.22,22.26 L502.46,22.26 L502.70,22.26 L502.94,22.25 L503.18,22.25 L503.42,22.25 L503.66,22.25 L503.89,22.25 L504.13,22.25 L504.37,22.25 L504.61,22.25 L504.85,22.25 L505.09,22.25 L505.33,22.25 L505.56,22.25 L505.80,22.25 L506.04,22.25 L506.28,22.25 L506.52,22.25 L506.76,22.25 L507.00,22.25 L507.24,22.25 L507.47,22.25 L507.71,22.25 L507.95,22.25 L508.19,22.25 L508.43,22.25 L508.67,22.25 L508.91,22.25 L509.14,22.25 L509.38,22.25 L509.62,22.25 L509.86,22.25 L510.10,22.25 L510.34,22.25 L510.58,22.25 L510.81,22.25 L511.05,22.25 L511.29,22.25 L511.53,22.25 L511.77,22.25 L512.01,22.25 L512.25,22.25 L512.48,22.25 L512.72,22.25 L512.96,22.25 L513.20,22.25 L513.44,22.25 L513.68,22.25 L513.92,22.25 L514.15,22.25 L514.39,22.25 L514.63,22.25 L514.87,22.25 L515.11,22.25 L515.35,22.25 L515.59,22.25 L515.83,22.25 L516.06,22.25 L516.30,22.25 L516.54,22.25 L516.78,22.25 L517.02,22.25 L517.26,22.25 L517.50,22.25 L517.73,22.25 L517.97,22.25 L518.21,22.25 L518.45,22.25 L518.69,22.25 L518.93,22.25 L519.17,22.25 L519.40,22.25 L519.64,22.25 L519.88,22.25 L520.12,22.25 L520.36,22.25 L520.60,22.25 L520.84,22.25 L521.07,22.25 L521.31,22.25 L521.55,22.25 L521.79,22.25 L522.03,22.25 L522.27,22.25 L522.51,22.25 L522.74,22.25 L522.98,22.25 L523.22,22.25 L523.46,22.25 L523.70,22.25 L523.94,22.25 L524.18,22.25 L524.41,22.25 L524.65,22.25 L524.89,22.25 L525.13,22.25 L525.37,22.25 L525.61,22.25 L525.85,22.25 L526.09,22.25 L526.32,22.25 L526.56,22.25 L526.80,22.25 L527.04,22.25 L527.28,22.25 L527.52,22.25 L527.76,22.25 L527.99,22.25 L528.23,22.25 L528.47,22.25 L528.71,22.25 L528.95,22.25 L529.19,22.25 L529.43,22.25 L529.66,22.25 L529.90,22.25 L530.14,22.25 L530.38,22.25 L530.62,22.25 L530.86,22.25 L531.10,22.25 L531.33,22.25 L531.57,22.25 L531.81,22.25 L532.05,22.25 L532.29,22.25 L532.53,22.25 L532.77,22.25 L533.00,22.25 L533.24,22.25 L533.48,22.25" fill="none" stroke="#0072BD" stroke-width="3.2" stroke-linejoin="round" stroke-linecap="round"/><path clip-path="url(#ax)" d="M56.50,340.74 L56.74,340.54 L56.98,340.34 L57.22,340.15 L57.45,339.95 L57.69,339.75 L57.93,339.56 L58.17,339.36 L58.41,339.16 L58.65,338.97 L58.89,338.77 L59.12,338.57 L59.36,338.38 L59.60,338.18 L59.84,337.98 L60.08,337.79 L60.32,337.59 L60.56,337.39 L60.79,337.20 L61.03,337.00 L61.27,336.80 L61.51,336.61 L61.75,336.41 L61.99,336.21 L62.23,336.02 L62.47,335.82 L62.70,335.62 L62.94,335.43 L63.18,335.23 L63.42,335.03 L63.66,334.84 L63.90,334.64 L64.14,334.44 L64.37,334.25 L64.61,334.05 L64.85,333.85 L65.09,333.66 L65.33,333.46 L65.57,333.26 L65.81,333.07 L66.04,332.87 L66.28,332.67 L66.52,332.48 L66.76,332.28 L67.00,332.08 L67.24,331.89 L67.48,331.69 L67.71,331.49 L67.95,331.30 L68.19,331.10 L68.43,330.90 L68.67,330.71 L68.91,330.51 L69.15,330.31 L69.38,330.12 L69.62,329.92 L69.86,329.72 L70.10,329.53 L70.34,329.33 L70.58,329.13 L70.82,328.94 L71.06,328.74 L71.29,328.54 L71.53,328.35 L71.77,328.15 L72.01,327.95 L72.25,327.76 L72.49,327.56 L72.73,327.36 L72.96,327.17 L73.20,326.97 L73.44,326.77 L73.68,326.58 L73.92,326.38 L74.16,326.18 L74.40,325.99 L74.63,325.79 L74.87,325.60 L75.11,325.40 L75.35,325.20 L75.59,325.01 L75.83,324.81 L76.07,324.61 L76.30,324.42 L76.54,324.22 L76.78,324.02 L77.02,323.83 L77.26,323.63 L77.50,323.43 L77.74,323.24 L77.97,323.04 L78.21,322.84 L78.45,322.65 L78.69,322.45 L78.93,322.25 L79.17,322.06 L79.41,321.86 L79.65,321.66 L79.88,321.47 L80.12,321.27 L80.36,321.07 L80.60,320.88 L80.84,320.68 L81.08,320.49 L81.32,320.29 L81.55,320.09 L81.79,319.90 L82.03,319.70 L82.27,319.50 L82.51,319.31 L82.75,319.11 L82.99,318.91 L83.22,318.72 L83.46,318.52 L83.70,318.32 L83.94,318.13 L84.18,317.93 L84.42,317.74 L84.66,317.54 L84.89,317.34 L85.13,317.15 L85.37,316.95 L85.61,316.75 L85.85,316.56 L86.09,316.36 L86.33,316.16 L86.56,315.97 L86.80,315.77 L87.04,315.57 L87.28,315.38 L87.52,315.18 L87.76,314.99 L88.00,314.79 L88.24,314.59 L88.47,314.40 L88.71,314.20 L88.95,314.00 L89.19,313.81 L89.43,313.61 L89.67,313.41 L89.91,313.22 L90.14,313.02 L90.38,312.83 L90.62,312.63 L90.86,312.43 L91.10,312.24 L91.34,312.04 L91.58,311.84 L91.81,311.65 L92.05,311.45 L92.29,311.26 L92.53,311.06 L92.77,310.86 L93.01,310.67 L93.25,310.47 L93.48,310.27 L93.72,310.08 L93.96,309.88 L94.20,309.69 L94.44,309.49 L94.68,309.29 L94.92,309.10 L95.15,308.90 L95.39,308.70 L95.63,308.51 L95.87,308.31 L96.11,308.12 L96.35,307.92 L96.59,307.72 L96.83,307.53 L97.06,307.33 L97.30,307.14 L97.54,306.94 L97.78,306.74 L98.02,306.55 L98.26,306.35 L98.50,306.15 L98.73,305.96 L98.97,305.76 L99.21,305.57 L99.45,305.37 L99.69,305.17 L99.93,304.98 L100.17,304.78 L100.40,304.59 L100.64,304.39 L100.88,304.19 L101.12,304.00 L101.36,303.80 L101.60,303.61 L101.84,303.41 L102.07,303.21 L102.31,303.02 L102.55,302.82 L102.79,302.63 L103.03,302.43 L103.27,302.23 L103.51,302.04 L103.74,301.84 L103.98,301.65 L104.22,301.45 L104.46,301.25 L104.70,301.06 L104.94,300.86 L105.18,300.67 L105.42,300.47 L105.65,300.28 L105.89,300.08 L106.13,299.88 L106.37,299.69 L106.61,299.49 L106.85,299.30 L107.09,299.10 L107.32,298.90 L107.56,298.71 L107.80,298.51 L108.04,298.32 L108.28,298.12 L108.52,297.93 L108.76,297.73 L108.99,297.53 L109.23,297.34 L109.47,297.14 L109.71,296.95 L109.95,296.75 L110.19,296.56 L110.43,296.36 L110.66,296.16 L110.90,295.97 L111.14,295.77 L111.38,295.58 L111.62,295.38 L111.86,295.19 L112.10,294.99 L112.33,294.79 L112.57,294.60 L112.81,294.40 L113.05,294.21 L113.29,294.01 L113.53,293.82 L113.77,293.62 L114.01,293.43 L114.24,293.23 L114.48,293.04 L114.72,292.84 L114.96,292.64 L115.20,292.45 L115.44,292.25 L115.68,292.06 L115.91,291.86 L116.15,291.67 L116.39,291.47 L116.63,291.28 L116.87,291.08 L117.11,290.89 L117.35,290.69 L117.58,290.50 L117.82,290.30 L118.06,290.10 L118.30,289.91 L118.54,289.71 L118.78,289.52 L119.02,289.32 L119.25,289.13 L119.49,288.93 L119.73,288.74 L119.97,288.54 L120.21,288.35 L120.45,288.15 L120.69,287.96 L120.92,287.76 L121.16,287.57 L121.40,287.37 L121.64,287.18 L121.88,286.98 L122.12,286.79 L122.36,286.59 L122.60,286.40 L122.83,286.20 L123.07,286.01 L123.31,285.81 L123.55,285.62 L123.79,285.42 L124.03,285.23 L124.27,285.03 L124.50,284.84 L124.74,284.64 L124.98,284.45 L125.22,284.25 L125.46,284.06 L125.70,283.86 L125.94,283.67 L126.17,283.47 L126.41,283.28 L126.65,283.09 L126.89,282.89 L127.13,282.70 L127.37,282.50 L127.61,282.31 L127.84,282.11 L128.08,281.92 L128.32,281.72 L128.56,281.53 L128.80,281.33 L129.04,281.14 L129.28,280.95 L129.51,280.75 L129.75,280.56 L129.99,280.36 L130.23,280.17 L130.47,279.97 L130.71,279.78 L130.95,279.58 L131.19,279.39 L131.42,279.20 L131.66,279.00 L131.90,278.81 L132.14,278.61 L132.38,278.42 L132.62,278.22 L132.86,278.03 L133.09,277.84 L133.33,277.64 L133.57,277.45 L133.81,277.25 L134.05,277.06 L134.29,276.87 L134.53,276.67 L134.76,276.48 L135.00,276.28 L135.24,276.09 L135.48,275.90 L135.72,275.70 L135.96,275.51 L136.20,275.32 L136.43,275.12 L136.67,274.93 L136.91,274.73 L137.15,274.54 L137.39,274.35 L137.63,274.15 L137.87,273.96 L138.10,273.77 L138.34,273.57 L138.58,273.38 L138.82,273.19 L139.06,272.99 L139.30,272.80 L139.54,272.61 L139.78,272.41 L140.01,272.22 L140.25,272.03 L140.49,271.83 L140.73,271.64 L140.97,271.45 L141.21,271.25 L141.45,271.06 L141.68,270.87 L141.92,270.67 L142.16,270.48 L142.40,270.29 L142.64,270.10 L142.88,269.90 L143.12,269.71 L143.35,269.52 L143.59,269.32 L143.83,269.13 L144.07,268.94 L144.31,268.75 L144.55,268.55 L144.79,268.36 L145.02,268.17 L145.26,267.98 L145.50,267.78 L145.74,267.59 L145.98,267.40 L146.22,267.21 L146.46,267.01 L146.69,266.82 L146.93,266.63 L147.17,266.44 L147.41,266.24 L147.65,266.05 L147.89,265.86 L148.13,265.67 L148.37,265.48 L148.60,265.28 L148.84,265.09 L149.08,264.90 L149.32,264.71 L149.56,264.52 L149.80,264.33 L150.04,264.13 L150.27,263.94 L150.51,263.75 L150.75,263.56 L150.99,263.37 L151.23,263.18 L151.47,262.98 L151.71,262.79 L151.94,262.60 L152.18,262.41 L152.42,262.22 L152.66,262.03 L152.90,261.84 L153.14,261.65 L153.38,261.45 L153.61,261.26 L153.85,261.07 L154.09,260.88 L154.33,260.69 L154.57,260.50 L154.81,260.31 L155.05,260.12 L155.28,259.93 L155.52,259.74 L155.76,259.55 L156.00,259.36 L156.24,259.17 L156.48,258.98 L156.72,258.79 L156.95,258.60 L157.19,258.41 L157.43,258.22 L157.67,258.03 L157.91,257.84 L158.15,257.65 L158.39,257.46 L158.63,257.27 L158.86,257.08 L159.10,256.89 L159.34,256.70 L159.58,256.51 L159.82,256.32 L160.06,256.13 L160.30,255.94 L160.53,255.75 L160.77,255.56 L161.01,255.37 L161.25,255.18 L161.49,254.99 L161.73,254.80 L161.97,254.62 L162.20,254.43 L162.44,254.24 L162.68,254.05 L162.92,253.86 L163.16,253.67 L163.40,253.48 L163.64,253.30 L163.87,253.11 L164.11,252.92 L164.35,252.73 L164.59,252.54 L164.83,252.35 L165.07,252.17 L165.31,251.98 L165.54,251.79 L165.78,251.60 L166.02,251.42 L166.26,251.23 L166.50,251.04 L166.74,250.85 L166.98,250.67 L167.22,250.48 L167.45,250.29 L167.69,250.11 L167.93,249.92 L168.17,249.73 L168.41,249.55 L168.65,249.36 L168.89,249.17 L169.12,248.99 L169.36,248.80 L169.60,248.61 L169.84,248.43 L170.08,248.24 L170.32,248.05 L170.56,247.87 L170.79,247.68 L171.03,247.50 L171.27,247.31 L171.51,247.13 L171.75,246.94 L171.99,246.76 L172.23,246.57 L172.46,246.39 L172.70,246.20 L172.94,246.02 L173.18,245.83 L173.42,245.65 L173.66,245.46 L173.90,245.28 L174.13,245.09 L174.37,244.91 L174.61,244.72 L174.85,244.54 L175.09,244.36 L175.33,244.17 L175.57,243.99 L175.81,243.81 L176.04,243.62 L176.28,243.44 L176.52,243.26 L176.76,243.07 L177.00,242.89 L177.24,242.71 L177.48,242.52 L177.71,242.34 L177.95,242.16 L178.19,241.98 L178.43,241.80 L178.67,241.61 L178.91,241.43 L179.15,241.25 L179.38,241.07 L179.62,240.89 L179.86,240.71 L180.10,240.52 L180.34,240.34 L180.58,240.16 L180.82,239.98 L181.05,239.80 L181.29,239.62 L181.53,239.44 L181.77,239.26 L182.01,239.08 L182.25,238.90 L182.49,238.72 L182.72,238.54 L182.96,238.36 L183.20,238.18 L183.44,238.00 L183.68,237.82 L183.92,237.65 L184.16,237.47 L184.40,237.29 L184.63,237.11 L184.87,236.93 L185.11,236.75 L185.35,236.58 L185.59,236.40 L185.83,236.22 L186.07,236.05 L186.30,235.87 L186.54,235.69 L186.78,235.51 L187.02,235.34 L187.26,235.16 L187.50,234.99 L187.74,234.81 L187.97,234.63 L188.21,234.46 L188.45,234.28 L188.69,234.11 L188.93,233.93 L189.17,233.76 L189.41,233.58 L189.64,233.41 L189.88,233.24 L190.12,233.06 L190.36,232.89 L190.60,232.71 L190.84,232.54 L191.08,232.37 L191.31,232.20 L191.55,232.02 L191.79,231.85 L192.03,231.68 L192.27,231.51 L192.51,231.34 L192.75,231.16 L192.99,230.99 L193.22,230.82 L193.46,230.65 L193.70,230.48 L193.94,230.31 L194.18,230.14 L194.42,229.97 L194.66,229.80 L194.89,229.63 L195.13,229.46 L195.37,229.29 L195.61,229.13 L195.85,228.96 L196.09,228.79 L196.33,228.62 L196.56,228.46 L196.80,228.29 L197.04,228.12 L197.28,227.95 L197.52,227.79 L197.76,227.62 L198.00,227.46 L198.23,227.29 L198.47,227.13 L198.71,226.96 L198.95,226.80 L199.19,226.63 L199.43,226.47 L199.67,226.31 L199.90,226.14 L200.14,225.98 L200.38,225.82 L200.62,225.66 L200.86,225.49 L201.10,225.33 L201.34,225.17 L201.58,225.01 L201.81,224.85 L202.05,224.69 L202.29,224.53 L202.53,224.37 L202.77,224.21 L203.01,224.05 L203.25,223.90 L203.48,223.74 L203.72,223.58 L203.96,223.42 L204.20,223.27 L204.44,223.11 L204.68,222.96 L204.92,222.80 L205.15,222.64 L205.39,222.49 L205.63,222.34 L205.87,222.18 L206.11,222.03 L206.35,221.88 L206.59,221.72 L206.82,221.57 L207.06,221.42 L207.30,221.27 L207.54,221.12 L207.78,220.97 L208.02,220.82 L208.26,220.67 L208.49,220.52 L208.73,220.37 L208.97,220.22 L209.21,220.08 L209.45,219.93 L209.69,219.78 L209.93,219.64 L210.17,219.49 L210.40,219.35 L210.64,219.20 L210.88,219.06 L211.12,218.92 L211.36,218.78 L211.60,218.63 L211.84,218.49 L212.07,218.35 L212.31,218.21 L212.55,218.07 L212.79,217.93 L213.03,217.80 L213.27,217.66 L213.51,217.52 L213.74,217.38 L213.98,217.25 L214.22,217.11 L214.46,216.98 L214.70,216.85 L214.94,216.71 L215.18,216.58 L215.41,216.45 L215.65,216.32 L215.89,216.19 L216.13,216.06 L216.37,215.93 L216.61,215.80 L216.85,215.68 L217.08,215.55 L217.32,215.42 L217.56,215.30 L217.80,215.18 L218.04,215.05 L218.28,214.93 L218.52,214.81 L218.76,214.69 L218.99,214.57 L219.23,214.45 L219.47,214.33 L219.71,214.22 L219.95,214.10 L220.19,213.98 L220.43,213.87 L220.66,213.76 L220.90,213.65 L221.14,213.53 L221.38,213.43 L221.62,213.32 L221.86,213.21 L222.10,213.10 L222.33,213.00 L222.57,212.89 L222.81,212.79 L223.05,212.69 L223.29,212.58 L223.53,212.49 L223.77,212.39 L224.00,212.29 L224.24,212.19 L224.48,212.10 L224.72,212.01 L224.96,211.91 L225.20,211.82 L225.44,211.73 L225.67,211.65 L225.91,211.56 L226.15,211.47 L226.39,211.39 L226.63,211.31 L226.87,211.23 L227.11,211.15 L227.35,211.07 L227.58,211.00 L227.82,210.92 L228.06,210.85 L228.30,210.78 L228.54,210.71 L228.78,210.64 L229.02,210.58 L229.25,210.52 L229.49,210.46 L229.73,210.40 L229.97,210.34 L230.21,210.29 L230.45,210.23 L230.69,210.18 L230.92,210.14 L231.16,210.09 L231.40,210.05 L231.64,210.00 L231.88,209.97 L232.12,209.93 L232.36,209.90 L232.59,209.87 L232.83,209.84 L233.07,209.81 L233.31,209.79 L233.55,209.77 L233.79,209.76 L234.03,209.74 L234.26,209.73 L234.50,209.73 L234.74,209.73 L234.98,209.73 L235.22,209.73 L235.46,209.74 L235.70,209.75 L235.94,209.77 L236.17,209.79 L236.41,209.81 L236.65,209.84 L236.89,209.87 L237.13,209.91 L237.37,209.95 L237.61,210.00 L237.84,210.06 L238.08,210.12 L238.32,210.18 L238.56,210.25 L238.80,210.33 L239.04,210.41 L239.28,210.50 L239.51,210.60 L239.75,210.70 L239.99,210.81 L240.23,210.93 L240.47,211.06 L240.71,211.19 L240.95,211.34 L241.18,211.49 L241.42,211.66 L241.66,211.83 L241.90,212.02 L242.14,212.22 L242.38,212.43 L242.62,212.65 L242.85,212.89 L243.09,213.14 L243.33,213.41 L243.57,213.70 L243.81,214.00 L244.05,214.32 L244.29,214.66 L244.52,215.03 L244.76,215.41 L245.00,215.83 L245.24,216.27 L245.48,216.75 L245.72,217.25 L245.96,217.80 L246.20,218.38 L246.43,219.01 L246.67,219.70 L246.91,220.44 L247.15,221.24 L247.39,222.12 L247.63,223.09 L247.87,224.15 L248.10,225.34 L248.34,226.67 L248.58,228.17 L248.82,229.89 L249.06,231.90 L249.30,234.29 L249.54,237.22 L249.77,240.96 L250.01,246.10 L250.25,254.18 L250.49,266.18 L250.73,266.18 L250.97,251.43 L251.21,243.72 L251.44,238.48 L251.68,234.48 L251.92,231.22 L252.16,228.46 L252.40,226.06 L252.64,223.93 L252.88,222.01 L253.11,220.25 L253.35,218.64 L253.59,217.13 L253.83,215.73 L254.07,214.41 L254.31,213.16 L254.55,211.98 L254.79,210.85 L255.02,209.77 L255.26,208.74 L255.50,207.75 L255.74,206.79 L255.98,205.87 L256.22,204.98 L256.46,204.11 L256.69,203.27 L256.93,202.45 L257.17,201.66 L257.41,200.89 L257.65,200.13 L257.89,199.40 L258.13,198.67 L258.36,197.97 L258.60,197.28 L258.84,196.60 L259.08,195.94 L259.32,195.29 L259.56,194.65 L259.80,194.02 L260.03,193.40 L260.27,192.79 L260.51,192.19 L260.75,191.60 L260.99,191.02 L261.23,190.45 L261.47,189.88 L261.70,189.33 L261.94,188.78 L262.18,188.23 L262.42,187.70 L262.66,187.17 L262.90,186.64 L263.14,186.12 L263.38,185.61 L263.61,185.10 L263.85,184.60 L264.09,184.10 L264.33,183.61 L264.57,183.12 L264.81,182.64 L265.05,182.16 L265.28,181.69 L265.52,181.22 L265.76,180.75 L266.00,180.29 L266.24,179.83 L266.48,179.38 L266.72,178.93 L266.95,178.48 L267.19,178.04 L267.43,177.60 L267.67,177.16 L267.91,176.73 L268.15,176.30 L268.39,175.87 L268.62,175.44 L268.86,175.02 L269.10,174.60 L269.34,174.18 L269.58,173.77 L269.82,173.36 L270.06,172.95 L270.29,172.54 L270.53,172.14 L270.77,171.73 L271.01,171.33 L271.25,170.94 L271.49,170.54 L271.73,170.15 L271.97,169.76 L272.20,169.37 L272.44,168.98 L272.68,168.60 L272.92,168.21 L273.16,167.83 L273.40,167.45 L273.64,167.07 L273.87,166.70 L274.11,166.32 L274.35,165.95 L274.59,165.58 L274.83,165.21 L275.07,164.84 L275.31,164.48 L275.54,164.11 L275.78,163.75 L276.02,163.39 L276.26,163.03 L276.50,162.67 L276.74,162.31 L276.98,161.96 L277.21,161.60 L277.45,161.25 L277.69,160.90 L277.93,160.55 L278.17,160.20 L278.41,159.85 L278.65,159.51 L278.88,159.16 L279.12,158.82 L279.36,158.47 L279.60,158.13 L279.84,157.79 L280.08,157.45 L280.32,157.12 L280.56,156.78 L280.79,156.44 L281.03,156.11 L281.27,155.77 L281.51,155.44 L281.75,155.11 L281.99,154.78 L282.23,154.45 L282.46,154.12 L282.70,153.79 L282.94,153.47 L283.18,153.14 L283.42,152.82 L283.66,152.49 L283.90,152.17 L284.13,151.85 L284.37,151.53 L284.61,151.21 L284.85,150.89 L285.09,150.57 L285.33,150.26 L285.57,149.94 L285.80,149.62 L286.04,149.31 L286.28,149.00 L286.52,148.68 L286.76,148.37 L287.00,148.06 L287.24,147.75 L287.47,147.44 L287.71,147.13 L287.95,146.82 L288.19,146.51 L288.43,146.21 L288.67,145.90 L288.91,145.60 L289.15,145.29 L289.38,144.99 L289.62,144.69 L289.86,144.38 L290.10,144.08 L290.34,143.78 L290.58,143.48 L290.82,143.18 L291.05,142.88 L291.29,142.58 L291.53,142.29 L291.77,141.99 L292.01,141.69 L292.25,141.40 L292.49,141.10 L292.72,140.81 L292.96,140.51 L293.20,140.22 L293.44,139.93 L293.68,139.64 L293.92,139.35 L294.16,139.06 L294.39,138.77 L294.63,138.48 L294.87,138.19 L295.11,137.90 L295.35,137.61 L295.59,137.32 L295.83,137.04 L296.06,136.75 L296.30,136.47 L296.54,136.18 L296.78,135.90 L297.02,135.61 L297.26,135.33 L297.50,135.05 L297.74,134.77 L297.97,134.48 L298.21,134.20 L298.45,133.92 L298.69,133.64 L298.93,133.36 L299.17,133.08 L299.41,132.81 L299.64,132.53 L299.88,132.25 L300.12,131.97 L300.36,131.70 L300.60,131.42 L300.84,131.15 L301.08,130.87 L301.31,130.60 L301.55,130.32 L301.79,130.05 L302.03,129.78 L302.27,129.50 L302.51,129.23 L302.75,128.96 L302.98,128.69 L303.22,128.42 L303.46,128.15 L303.70,127.88 L303.94,127.61 L304.18,127.34 L304.42,127.07 L304.65,126.80 L304.89,126.53 L305.13,126.27 L305.37,126.00 L305.61,125.73 L305.85,125.47 L306.09,125.20 L306.33,124.94 L306.56,124.67 L306.80,124.41 L307.04,124.15 L307.28,123.88 L307.52,123.62 L307.76,123.36 L308.00,123.09 L308.23,122.83 L308.47,122.57 L308.71,122.31 L308.95,122.05 L309.19,121.79 L309.43,121.53 L309.67,121.27 L309.90,121.01 L310.14,120.75 L310.38,120.49 L310.62,120.24 L310.86,119.98 L311.10,119.72 L311.34,119.46 L311.57,119.21 L311.81,118.95 L312.05,118.70 L312.29,118.44 L312.53,118.19 L312.77,117.93 L313.01,117.68 L313.24,117.42 L313.48,117.17 L313.72,116.92 L313.96,116.66 L314.20,116.41 L314.44,116.16 L314.68,115.91 L314.92,115.65 L315.15,115.40 L315.39,115.15 L315.63,114.90 L315.87,114.65 L316.11,114.40 L316.35,114.15 L316.59,113.90 L316.82,113.65 L317.06,113.41 L317.30,113.16 L317.54,112.91 L317.78,112.66 L318.02,112.42 L318.26,112.17 L318.49,111.92 L318.73,111.68 L318.97,111.43 L319.21,111.18 L319.45,110.94 L319.69,110.69 L319.93,110.45 L320.16,110.20 L320.40,109.96 L320.64,109.72 L320.88,109.47 L321.12,109.23 L321.36,108.99 L321.60,108.74 L321.83,108.50 L322.07,108.26 L322.31,108.02 L322.55,107.78 L322.79,107.54 L323.03,107.30 L323.27,107.05 L323.51,106.81 L323.74,106.57 L323.98,106.33 L324.22,106.10 L324.46,105.86 L324.70,105.62 L324.94,105.38 L325.18,105.14 L325.41,104.90 L325.65,104.66 L325.89,104.43 L326.13,104.19 L326.37,103.95 L326.61,103.72 L326.85,103.48 L327.08,103.24 L327.32,103.01 L327.56,102.77 L327.80,102.54 L328.04,102.30 L328.28,102.07 L328.52,101.83 L328.75,101.60 L328.99,101.36 L329.23,101.13 L329.47,100.90 L329.71,100.66 L329.95,100.43 L330.19,100.20 L330.42,99.96 L330.66,99.73 L330.90,99.50 L331.14,99.27 L331.38,99.04 L331.62,98.81 L331.86,98.57 L332.10,98.34 L332.33,98.11 L332.57,97.88 L332.81,97.65 L333.05,97.42 L333.29,97.19 L333.53,96.96 L333.77,96.73 L334.00,96.51 L334.24,96.28 L334.48,96.05 L334.72,95.82 L334.96,95.59 L335.20,95.36 L335.44,95.14 L335.67,94.91 L335.91,94.68 L336.15,94.46 L336.39,94.23 L336.63,94.00 L336.87,93.78 L337.11,93.55 L337.34,93.32 L337.58,93.10 L337.82,92.87 L338.06,92.65 L338.30,92.42 L338.54,92.20 L338.78,91.97 L339.01,91.75 L339.25,91.53 L339.49,91.30 L339.73,91.08 L339.97,90.85 L340.21,90.63 L340.45,90.41 L340.68,90.18 L340.92,89.96 L341.16,89.74 L341.40,89.52 L341.64,89.30 L341.88,89.07 L342.12,88.85 L342.36,88.63 L342.59,88.41 L342.83,88.19 L343.07,87.97 L343.31,87.75 L343.55,87.53 L343.79,87.31 L344.03,87.09 L344.26,86.87 L344.50,86.65 L344.74,86.43 L344.98,86.21 L345.22,85.99 L345.46,85.77 L345.70,85.55 L345.93,85.33 L346.17,85.11 L346.41,84.89 L346.65,84.68 L346.89,84.46 L347.13,84.24 L347.37,84.02 L347.60,83.81 L347.84,83.59 L348.08,83.37 L348.32,83.16 L348.56,82.94 L348.80,82.72 L349.04,82.51 L349.27,82.29 L349.51,82.07 L349.75,81.86 L349.99,81.64 L350.23,81.43 L350.47,81.21 L350.71,81.00 L350.95,80.78 L351.18,80.57 L351.42,80.35 L351.66,80.14 L351.90,79.92 L352.14,79.71 L352.38,79.50 L352.62,79.28 L352.85,79.07 L353.09,78.86 L353.33,78.64 L353.57,78.43 L353.81,78.22 L354.05,78.00 L354.29,77.79 L354.52,77.58 L354.76,77.37 L355.00,77.15 L355.24,76.94 L355.48,76.73 L355.72,76.52 L355.96,76.31 L356.19,76.10 L356.43,75.89 L356.67,75.67 L356.91,75.46 L357.15,75.25 L357.39,75.04 L357.63,74.83 L357.86,74.62 L358.10,74.41 L358.34,74.20 L358.58,73.99 L358.82,73.78 L359.06,73.57 L359.30,73.36 L359.54,73.15 L359.77,72.94 L360.01,72.74 L360.25,72.53 L360.49,72.32 L360.73,72.11 L360.97,71.90 L361.21,71.69 L361.44,71.48 L361.68,71.28 L361.92,71.07 L362.16,70.86 L362.40,70.65 L362.64,70.45 L362.88,70.24 L363.11,70.03 L363.35,69.83 L363.59,69.62 L363.83,69.41 L364.07,69.21 L364.31,69.00 L364.55,68.79 L364.78,68.59 L365.02,68.38 L365.26,68.17 L365.50,67.97 L365.74,67.76 L365.98,67.56 L366.22,67.35 L366.45,67.15 L366.69,66.94 L366.93,66.74 L367.17,66.53 L367.41,66.33 L367.65,66.12 L367.89,65.92 L368.13,65.72 L368.36,65.51 L368.60,65.31 L368.84,65.10 L369.08,64.90 L369.32,64.70 L369.56,64.49 L369.80,64.29 L370.03,64.09 L370.27,63.88 L370.51,63.68 L370.75,63.48 L370.99,63.27 L371.23,63.07 L371.47,62.87 L371.70,62.67 L371.94,62.47 L372.18,62.26 L372.42,62.06 L372.66,61.86 L372.90,61.66 L373.14,61.46 L373.37,61.26 L373.61,61.05 L373.85,60.85 L374.09,60.65 L374.33,60.45 L374.57,60.25 L374.81,60.05 L375.04,59.85 L375.28,59.65 L375.52,59.45 L375.76,59.25 L376.00,59.05 L376.24,58.85 L376.48,58.65 L376.72,58.45 L376.95,58.25 L377.19,58.05 L377.43,57.85 L377.67,57.65 L377.91,57.46 L378.15,57.26 L378.39,57.06 L378.62,56.86 L378.86,56.66 L379.10,56.46 L379.34,56.27 L379.58,56.07 L379.82,55.87 L380.06,55.67 L380.29,55.48 L380.53,55.28 L380.77,55.08 L381.01,54.89 L381.25,54.69 L381.49,54.49 L381.73,54.30 L381.96,54.10 L382.20,53.90 L382.44,53.71 L382.68,53.51 L382.92,53.32 L383.16,53.12 L383.40,52.93 L383.63,52.73 L383.87,52.54 L384.11,52.34 L384.35,52.15 L384.59,51.95 L384.83,51.76 L385.07,51.56 L385.31,51.37 L385.54,51.18 L385.78,50.98 L386.02,50.79 L386.26,50.60 L386.50,50.40 L386.74,50.21 L386.98,50.02 L387.21,49.83 L387.45,49.63 L387.69,49.44 L387.93,49.25 L388.17,49.06 L388.41,48.87 L388.65,48.68 L388.88,48.49 L389.12,48.30 L389.36,48.11 L389.60,47.92 L389.84,47.73 L390.08,47.54 L390.32,47.35 L390.55,47.16 L390.79,46.97 L391.03,46.78 L391.27,46.59 L391.51,46.40 L391.75,46.22 L391.99,46.03 L392.22,45.84 L392.46,45.66 L392.70,45.47 L392.94,45.28 L393.18,45.10 L393.42,44.91 L393.66,44.73 L393.90,44.54 L394.13,44.36 L394.37,44.17 L394.61,43.99 L394.85,43.80 L395.09,43.62 L395.33,43.44 L395.57,43.26 L395.80,43.07 L396.04,42.89 L396.28,42.71 L396.52,42.53 L396.76,42.35 L397.00,42.17 L397.24,41.99 L397.47,41.81 L397.71,41.63 L397.95,41.45 L398.19,41.27 L398.43,41.10 L398.67,40.92 L398.91,40.74 L399.14,40.57 L399.38,40.39 L399.62,40.22 L399.86,40.04 L400.10,39.87 L400.34,39.69 L400.58,39.52 L400.81,39.35 L401.05,39.18 L401.29,39.00 L401.53,38.83 L401.77,38.66 L402.01,38.49 L402.25,38.32 L402.49,38.16 L402.72,37.99 L402.96,37.82 L403.20,37.66 L403.44,37.49 L403.68,37.32 L403.92,37.16 L404.16,37.00 L404.39,36.83 L404.63,36.67 L404.87,36.51 L405.11,36.35 L405.35,36.19 L405.59,36.03 L405.83,35.87 L406.06,35.71 L406.30,35.56 L406.54,35.40 L406.78,35.24 L407.02,35.09 L407.26,34.94 L407.50,34.78 L407.73,34.63 L407.97,34.48 L408.21,34.33 L408.45,34.18 L408.69,34.03 L408.93,33.89 L409.17,33.74 L409.40,33.59 L409.64,33.45 L409.88,33.31 L410.12,33.16 L410.36,33.02 L410.60,32.88 L410.84,32.74 L411.08,32.60 L411.31,32.46 L411.55,32.33 L411.79,32.19 L412.03,32.06 L412.27,31.92 L412.51,31.79 L412.75,31.66 L412.98,31.53 L413.22,31.40 L413.46,31.27 L413.70,31.15 L413.94,31.02 L414.18,30.90 L414.42,30.77 L414.65,30.65 L414.89,30.53 L415.13,30.41 L415.37,30.29 L415.61,30.17 L415.85,30.06 L416.09,29.94 L416.32,29.83 L416.56,29.71 L416.80,29.60 L417.04,29.49 L417.28,29.38 L417.52,29.27 L417.76,29.17 L417.99,29.06 L418.23,28.96 L418.47,28.85 L418.71,28.75 L418.95,28.65 L419.19,28.55 L419.43,28.45 L419.67,28.36 L419.90,28.26 L420.14,28.17 L420.38,28.07 L420.62,27.98 L420.86,27.89 L421.10,27.80 L421.34,27.71 L421.57,27.62 L421.81,27.54 L422.05,27.45 L422.29,27.37 L422.53,27.28 L422.77,27.20 L423.01,27.12 L423.24,27.04 L423.48,26.96 L423.72,26.89 L423.96,26.81 L424.20,26.73 L424.44,26.66 L424.68,26.59 L424.91,26.52 L425.15,26.45 L425.39,26.38 L425.63,26.31 L425.87,26.24 L426.11,26.17 L426.35,26.11 L426.58,26.05 L426.82,25.98 L427.06,25.92 L427.30,25.86 L427.54,25.80 L427.78,25.74 L428.02,25.68 L428.25,25.62 L428.49,25.57 L428.73,25.51 L428.97,25.46 L429.21,25.40 L429.45,25.35 L429.69,25.30 L429.93,25.25 L430.16,25.20 L430.40,25.15 L430.64,25.10 L430.88,25.06 L431.12,25.01 L431.36,24.96 L431.60,24.92 L431.83,24.87 L432.07,24.83 L432.31,24.79 L432.55,24.75 L432.79,24.70 L433.03,24.66 L433.27,24.62 L433.50,24.59 L433.74,24.55 L433.98,24.51 L434.22,24.47 L434.46,24.44 L434.70,24.40 L434.94,24.37 L435.17,24.33 L435.41,24.30 L435.65,24.27 L435.89,24.23 L436.13,24.20 L436.37,24.17 L436.61,24.14 L436.84,24.11 L437.08,24.08 L437.32,24.05 L437.56,24.02 L437.80,23.99 L438.04,23.97 L438.28,23.94 L438.52,23.91 L438.75,23.89 L438.99,23.86 L439.23,23.84 L439.47,23.81 L439.71,23.79 L439.95,23.76 L440.19,23.74 L440.42,23.72 L440.66,23.70 L440.90,23.67 L441.14,23.65 L441.38,23.63 L441.62,23.61 L441.86,23.59 L442.09,23.57 L442.33,23.55 L442.57,23.53 L442.81,23.51 L443.05,23.49 L443.29,23.47 L443.53,23.45 L443.76,23.44 L444.00,23.42 L444.24,23.40 L444.48,23.38 L444.72,23.37 L444.96,23.35 L445.20,23.34 L445.43,23.32 L445.67,23.30 L445.91,23.29 L446.15,23.27 L446.39,23.26 L446.63,23.24 L446.87,23.23 L447.11,23.22 L447.34,23.20 L447.58,23.19 L447.82,23.18 L448.06,23.16 L448.30,23.15 L448.54,23.14 L448.78,23.12 L449.01,23.11 L449.25,23.10 L449.49,23.09 L449.73,23.08 L449.97,23.07 L450.21,23.05 L450.45,23.04 L450.68,23.03 L450.92,23.02 L451.16,23.01 L451.40,23.00 L451.64,22.99 L451.88,22.98 L452.12,22.97 L452.35,22.96 L452.59,22.95 L452.83,22.94 L453.07,22.93 L453.31,22.92 L453.55,22.91 L453.79,22.90 L454.02,22.89 L454.26,22.89 L454.50,22.88 L454.74,22.87 L454.98,22.86 L455.22,22.85 L455.46,22.84 L455.70,22.84 L455.93,22.83 L456.17,22.82 L456.41,22.81 L456.65,22.81 L456.89,22.80 L457.13,22.79 L457.37,22.78 L457.60,22.78 L457.84,22.77 L458.08,22.76 L458.32,22.76 L458.56,22.75 L458.80,22.74 L459.04,22.74 L459.27,22.73 L459.51,22.72 L459.75,22.72 L459.99,22.71 L460.23,22.70 L460.47,22.70 L460.71,22.69 L460.94,22.69 L461.18,22.68 L461.42,22.67 L461.66,22.67 L461.90,22.66 L462.14,22.66 L462.38,22.65 L462.61,22.65 L462.85,22.64 L463.09,22.64 L463.33,22.63 L463.57,22.63 L463.81,22.62 L464.05,22.62 L464.29,22.61 L464.52,22.61 L464.76,22.60 L465.00,22.60 L465.24,22.59 L465.48,22.59 L465.72,22.58 L465.96,22.58 L466.19,22.57 L466.43,22.57 L466.67,22.57 L466.91,22.56 L467.15,22.56 L467.39,22.55 L467.63,22.55 L467.86,22.54 L468.10,22.54 L468.34,22.54 L468.58,22.53 L468.82,22.53 L469.06,22.53 L469.30,22.52 L469.53,22.52 L469.77,22.51 L470.01,22.51 L470.25,22.51 L470.49,22.50 L470.73,22.50 L470.97,22.50 L471.20,22.49 L471.44,22.49 L471.68,22.49 L471.92,22.48 L472.16,22.48 L472.40,22.48 L472.64,22.47 L472.88,22.47 L473.11,22.47 L473.35,22.46 L473.59,22.46 L473.83,22.46 L474.07,22.46 L474.31,22.45 L474.55,22.45 L474.78,22.45 L475.02,22.44 L475.26,22.44 L475.50,22.44 L475.74,22.44 L475.98,22.43 L476.22,22.43 L476.45,22.43 L476.69,22.43 L476.93,22.42 L477.17,22.42 L477.41,22.42 L477.65,22.42 L477.89,22.41 L478.12,22.41 L478.36,22.41 L478.60,22.41 L478.84,22.40 L479.08,22.40 L479.32,22.40 L479.56,22.40 L479.79,22.40 L480.03,22.39 L480.27,22.39 L480.51,22.39 L480.75,22.39 L480.99,22.39 L481.23,22.38 L481.47,22.38 L481.70,22.38 L481.94,22.38 L482.18,22.38 L482.42,22.37 L482.66,22.37 L482.90,22.37 L483.14,22.37 L483.37,22.37 L483.61,22.37 L483.85,22.36 L484.09,22.36 L484.33,22.36 L484.57,22.36 L484.81,22.36 L485.04,22.36 L485.28,22.35 L485.52,22.35 L485.76,22.35 L486.00,22.35 L486.24,22.35 L486.48,22.35 L486.71,22.35 L486.95,22.34 L487.19,22.34 L487.43,22.34 L487.67,22.34 L487.91,22.34 L488.15,22.34 L488.38,22.34 L488.62,22.33 L488.86,22.33 L489.10,22.33 L489.34,22.33 L489.58,22.33 L489.82,22.33 L490.06,22.33 L490.29,22.33 L490.53,22.33 L490.77,22.32 L491.01,22.32 L491.25,22.32 L491.49,22.32 L491.73,22.32 L491.96,22.32 L492.20,22.32 L492.44,22.32 L492.68,22.32 L492.92,22.31 L493.16,22.31 L493.40,22.31 L493.63,22.31 L493.87,22.31 L494.11,22.31 L494.35,22.31 L494.59,22.31 L494.83,22.31 L495.07,22.31 L495.30,22.31 L495.54,22.30 L495.78,22.30 L496.02,22.30 L496.26,22.30 L496.50,22.30 L496.74,22.30 L496.97,22.30 L497.21,22.30 L497.45,22.30 L497.69,22.30 L497.93,22.30 L498.17,22.30 L498.41,22.30 L498.65,22.30 L498.88,22.29 L499.12,22.29 L499.36,22.29 L499.60,22.29 L499.84,22.29 L500.08,22.29 L500.32,22.29 L500.55,22.29 L500.79,22.29 L501.03,22.29 L501.27,22.29 L501.51,22.29 L501.75,22.29 L501.99,22.29 L502.22,22.29 L502.46,22.29 L502.70,22.29 L502.94,22.28 L503.18,22.28 L503.42,22.28 L503.66,22.28 L503.89,22.28 L504.13,22.28 L504.37,22.28 L504.61,22.28 L504.85,22.28 L505.09,22.28 L505.33,22.28 L505.56,22.28 L505.80,22.28 L506.04,22.28 L506.28,22.28 L506.52,22.28 L506.76,22.28 L507.00,22.28 L507.24,22.28 L507.47,22.28 L507.71,22.28 L507.95,22.28 L508.19,22.28 L508.43,22.27 L508.67,22.27 L508.91,22.27 L509.14,22.27 L509.38,22.27 L509.62,22.27 L509.86,22.27 L510.10,22.27 L510.34,22.27 L510.58,22.27 L510.81,22.27 L511.05,22.27 L511.29,22.27 L511.53,22.27 L511.77,22.27 L512.01,22.27 L512.25,22.27 L512.48,22.27 L512.72,22.27 L512.96,22.27 L513.20,22.27 L513.44,22.27 L513.68,22.27 L513.92,22.27 L514.15,22.27 L514.39,22.27 L514.63,22.27 L514.87,22.27 L515.11,22.27 L515.35,22.27 L515.59,22.27 L515.83,22.27 L516.06,22.27 L516.30,22.27 L516.54,22.27 L516.78,22.27 L517.02,22.27 L517.26,22.27 L517.50,22.27 L517.73,22.27 L517.97,22.26 L518.21,22.26 L518.45,22.26 L518.69,22.26 L518.93,22.26 L519.17,22.26 L519.40,22.26 L519.64,22.26 L519.88,22.26 L520.12,22.26 L520.36,22.26 L520.60,22.26 L520.84,22.26 L521.07,22.26 L521.31,22.26 L521.55,22.26 L521.79,22.26 L522.03,22.26 L522.27,22.26 L522.51,22.26 L522.74,22.26 L522.98,22.26 L523.22,22.26 L523.46,22.26 L523.70,22.26 L523.94,22.26 L524.18,22.26 L524.41,22.26 L524.65,22.26 L524.89,22.26 L525.13,22.26 L525.37,22.26 L525.61,22.26 L525.85,22.26 L526.09,22.26 L526.32,22.26 L526.56,22.26 L526.80,22.26 L527.04,22.26 L527.28,22.26 L527.52,22.26 L527.76,22.26 L527.99,22.26 L528.23,22.26 L528.47,22.26 L528.71,22.26 L528.95,22.26 L529.19,22.26 L529.43,22.26 L529.66,22.26 L529.90,22.26 L530.14,22.26 L530.38,22.26 L530.62,22.26 L530.86,22.26 L531.10,22.26 L531.33,22.26 L531.57,22.26 L531.81,22.26 L532.05,22.26 L532.29,22.26 L532.53,22.26 L532.77,22.26 L533.00,22.26 L533.24,22.26 L533.48,22.26" fill="none" stroke="#FF0000" stroke-width="3.2" stroke-linejoin="round" stroke-linecap="round"/><g stroke="#3c3c3c" stroke-width="1"><line x1="56.5" y1="347.5" x2="61.5" y2="347.5"/><line x1="533.5" y1="347.5" x2="528.5" y2="347.5"/><line x1="56.5" y1="312.5" x2="61.5" y2="312.5"/><line x1="533.5" y1="312.5" x2="528.5" y2="312.5"/><line x1="56.5" y1="276.5" x2="61.5" y2="276.5"/><line x1="533.5" y1="276.5" x2="528.5" y2="276.5"/><line x1="56.5" y1="241.5" x2="61.5" y2="241.5"/><line x1="533.5" y1="241.5" x2="528.5" y2="241.5"/><line x1="56.5" y1="205.5" x2="61.5" y2="205.5"/><line x1="533.5" y1="205.5" x2="528.5" y2="205.5"/><line x1="56.5" y1="170.5" x2="61.5" y2="170.5"/><line x1="533.5" y1="170.5" x2="528.5" y2="170.5"/><line x1="56.5" y1="134.5" x2="61.5" y2="134.5"/><line x1="533.5" y1="134.5" x2="528.5" y2="134.5"/><line x1="56.5" y1="99.5" x2="61.5" y2="99.5"/><line x1="533.5" y1="99.5" x2="528.5" y2="99.5"/><line x1="56.5" y1="63.5" x2="61.5" y2="63.5"/><line x1="533.5" y1="63.5" x2="528.5" y2="63.5"/><line x1="56.5" y1="28.5" x2="61.5" y2="28.5"/><line x1="533.5" y1="28.5" x2="528.5" y2="28.5"/><line x1="56.5" y1="347.5" x2="56.5" y2="342.5"/><line x1="56.5" y1="10.5" x2="56.5" y2="15.5"/><line x1="95.5" y1="347.5" x2="95.5" y2="345.5"/><line x1="95.5" y1="10.5" x2="95.5" y2="12.5"/><line x1="118.5" y1="347.5" x2="118.5" y2="345.5"/><line x1="118.5" y1="10.5" x2="118.5" y2="12.5"/><line x1="134.5" y1="347.5" x2="134.5" y2="345.5"/><line x1="134.5" y1="10.5" x2="134.5" y2="12.5"/><line x1="146.5" y1="347.5" x2="146.5" y2="345.5"/><line x1="146.5" y1="10.5" x2="146.5" y2="12.5"/><line x1="156.5" y1="347.5" x2="156.5" y2="345.5"/><line x1="156.5" y1="10.5" x2="156.5" y2="12.5"/><line x1="165.5" y1="347.5" x2="165.5" y2="345.5"/><line x1="165.5" y1="10.5" x2="165.5" y2="12.5"/><line x1="172.5" y1="347.5" x2="172.5" y2="345.5"/><line x1="172.5" y1="10.5" x2="172.5" y2="12.5"/><line x1="179.5" y1="347.5" x2="179.5" y2="345.5"/><line x1="179.5" y1="10.5" x2="179.5" y2="12.5"/><line x1="185.5" y1="347.5" x2="185.5" y2="342.5"/><line x1="185.5" y1="10.5" x2="185.5" y2="15.5"/><line x1="224.5" y1="347.5" x2="224.5" y2="345.5"/><line x1="224.5" y1="10.5" x2="224.5" y2="12.5"/><line x1="246.5" y1="347.5" x2="246.5" y2="345.5"/><line x1="246.5" y1="10.5" x2="246.5" y2="12.5"/><line x1="263.5" y1="347.5" x2="263.5" y2="345.5"/><line x1="263.5" y1="10.5" x2="263.5" y2="12.5"/><line x1="275.5" y1="347.5" x2="275.5" y2="345.5"/><line x1="275.5" y1="10.5" x2="275.5" y2="12.5"/><line x1="285.5" y1="347.5" x2="285.5" y2="345.5"/><line x1="285.5" y1="10.5" x2="285.5" y2="12.5"/><line x1="294.5" y1="347.5" x2="294.5" y2="345.5"/><line x1="294.5" y1="10.5" x2="294.5" y2="12.5"/><line x1="301.5" y1="347.5" x2="301.5" y2="345.5"/><line x1="301.5" y1="10.5" x2="301.5" y2="12.5"/><line x1="308.5" y1="347.5" x2="308.5" y2="345.5"/><line x1="308.5" y1="10.5" x2="308.5" y2="12.5"/><line x1="314.5" y1="347.5" x2="314.5" y2="342.5"/><line x1="314.5" y1="10.5" x2="314.5" y2="15.5"/><line x1="353.5" y1="347.5" x2="353.5" y2="345.5"/><line x1="353.5" y1="10.5" x2="353.5" y2="12.5"/><line x1="375.5" y1="347.5" x2="375.5" y2="345.5"/><line x1="375.5" y1="10.5" x2="375.5" y2="12.5"/><line x1="392.5" y1="347.5" x2="392.5" y2="345.5"/><line x1="392.5" y1="10.5" x2="392.5" y2="12.5"/><line x1="404.5" y1="347.5" x2="404.5" y2="345.5"/><line x1="404.5" y1="10.5" x2="404.5" y2="12.5"/><line x1="414.5" y1="347.5" x2="414.5" y2="345.5"/><line x1="414.5" y1="10.5" x2="414.5" y2="12.5"/><line x1="423.5" y1="347.5" x2="423.5" y2="345.5"/><line x1="423.5" y1="10.5" x2="423.5" y2="12.5"/><line x1="430.5" y1="347.5" x2="430.5" y2="345.5"/><line x1="430.5" y1="10.5" x2="430.5" y2="12.5"/><line x1="437.5" y1="347.5" x2="437.5" y2="345.5"/><line x1="437.5" y1="10.5" x2="437.5" y2="12.5"/><line x1="443.5" y1="347.5" x2="443.5" y2="342.5"/><line x1="443.5" y1="10.5" x2="443.5" y2="15.5"/><line x1="482.5" y1="347.5" x2="482.5" y2="345.5"/><line x1="482.5" y1="10.5" x2="482.5" y2="12.5"/><line x1="504.5" y1="347.5" x2="504.5" y2="345.5"/><line x1="504.5" y1="10.5" x2="504.5" y2="12.5"/><line x1="520.5" y1="347.5" x2="520.5" y2="345.5"/><line x1="520.5" y1="10.5" x2="520.5" y2="12.5"/><line x1="533.5" y1="347.5" x2="533.5" y2="345.5"/><line x1="533.5" y1="10.5" x2="533.5" y2="12.5"/></g><rect x="56.5" y="10.5" width="477.0" height="337.0" fill="none" stroke="#3c3c3c" stroke-width="1"/><line x1="96.5" y1="37.25" x2="137.5" y2="37.25" stroke="#0072BD" stroke-width="3.2"/><line x1="96.5" y1="55.25" x2="137.5" y2="55.25" stroke="#FF0000" stroke-width="3.2"/><g font-family="'Liberation Sans', Arial, Helvetica, sans-serif" font-weight="bold" font-size="12" fill="#000"><text x="51.2" y="352.90" text-anchor="end">-180</text><text x="51.2" y="317.90" text-anchor="end">-160</text><text x="51.2" y="281.90" text-anchor="end">-140</text><text x="51.2" y="246.90" text-anchor="end">-120</text><text x="51.2" y="210.90" text-anchor="end">-100</text><text x="51.2" y="175.90" text-anchor="end">-80</text><text x="51.2" y="139.90" text-anchor="end">-60</text><text x="51.2" y="104.90" text-anchor="end">-40</text><text x="51.2" y="68.90" text-anchor="end">-20</text><text x="51.2" y="33.90" text-anchor="end">0</text><text x="55.90" y="365.2" text-anchor="middle">0.0001</text><text x="184.85" y="365.2" text-anchor="middle">0.001</text><text x="313.80" y="365.2" text-anchor="middle">0.01</text><text x="442.75" y="365.2" text-anchor="middle">0.1</text><text x="533.88" y="365.2" text-anchor="middle">0.5</text></g><text text-rendering="geometricPrecision" transform="translate(20.6,179.4) rotate(-90)" text-anchor="middle" font-family="'Liberation Sans', Arial, Helvetica, sans-serif" font-weight="bold" font-size="13.5" fill="#000">dB</text><text y="392.0" font-family="'Liberation Sans', Arial, Helvetica, sans-serif" font-weight="bold" font-size="13" fill="#000"><tspan x="193.0">Normalized frequency (1</tspan><tspan x="357.0" y="392.0"> f</tspan><tspan x="365.2" y="398.2" font-size="9">s</tspan><tspan x="371.8" y="392.0">)</tspan></text><text transform="translate(344.1,392.9) scale(1.12,0.9)" font-family="DejaVu Sans, sans-serif" font-size="14" fill="#1a1a1a">→</text><text y="39.5" font-family="'Liberation Sans', Arial, Helvetica, sans-serif" font-weight="bold" font-size="10" fill="#000"><tspan x="141.5">NTF</tspan><tspan x="161.7" y="43.9" font-size="8.2" letter-spacing="0.38">3order</tspan></text><text y="57.5" font-family="'Liberation Sans', Arial, Helvetica, sans-serif" font-weight="bold" font-size="10" fill="#000"><tspan x="141.5">NTF</tspan><tspan x="161.5" y="62.0" font-size="8.2" letter-spacing="0.55">electromechanical</tspan></text></g></svg></div></body></html>
